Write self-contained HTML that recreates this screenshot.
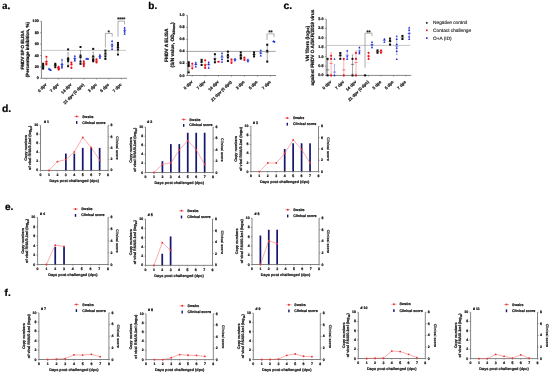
<!DOCTYPE html>
<html><head><meta charset="utf-8"><style>
html,body{margin:0;padding:0;background:#fff;width:550px;height:374px;overflow:hidden}
svg{display:block;font-family:"Liberation Sans", sans-serif}
text{stroke-width:0.22;text-rendering:geometricPrecision}
</style></head><body>
<svg width="550" height="374" viewBox="0 0 550 374">
<defs><filter id="bl" x="0" y="0" width="550" height="374" filterUnits="userSpaceOnUse"><feGaussianBlur stdDeviation="0.3"/></filter></defs>
<rect width="550" height="374" fill="#fff"/>
<g filter="url(#bl)">
<text x="2" y="9.3" font-size="11" font-weight="bold" fill="#000" stroke="#000" font-family='"Liberation Serif", serif'>a.</text>
<text x="148.3" y="9.4" font-size="10" font-weight="bold" fill="#000" stroke="#000">b.</text>
<text x="283.4" y="9.4" font-size="10.4" font-weight="bold" fill="#000" stroke="#000">c.</text>
<text x="2" y="111.6" font-size="10.4" font-weight="bold" fill="#000" stroke="#000">d.</text>
<text x="5" y="209.6" font-size="10" font-weight="bold" fill="#000" stroke="#000">e.</text>
<text x="4.6" y="295.5" font-size="10" font-weight="bold" fill="#000" stroke="#000">f.</text>
<line x1="41.45" y1="21.4" x2="41.45" y2="78.3" stroke="#505050" stroke-width="0.7"/>
<line x1="41.45" y1="78.3" x2="127" y2="78.3" stroke="#505050" stroke-width="0.7"/>
<line x1="40.05" y1="78.3" x2="41.45" y2="78.3" stroke="#505050" stroke-width="0.5"/>
<text x="38.75" y="78.3" font-size="3.7" font-weight="bold" text-anchor="end" fill="#111" stroke="#111" dominant-baseline="central">0</text>
<line x1="40.05" y1="66.92" x2="41.45" y2="66.92" stroke="#505050" stroke-width="0.5"/>
<text x="38.75" y="66.92" font-size="3.7" font-weight="bold" text-anchor="end" fill="#111" stroke="#111" dominant-baseline="central">20</text>
<line x1="40.05" y1="55.54" x2="41.45" y2="55.54" stroke="#505050" stroke-width="0.5"/>
<text x="38.75" y="55.54" font-size="3.7" font-weight="bold" text-anchor="end" fill="#111" stroke="#111" dominant-baseline="central">40</text>
<line x1="40.05" y1="44.16" x2="41.45" y2="44.16" stroke="#505050" stroke-width="0.5"/>
<text x="38.75" y="44.16" font-size="3.7" font-weight="bold" text-anchor="end" fill="#111" stroke="#111" dominant-baseline="central">60</text>
<line x1="40.05" y1="32.78" x2="41.45" y2="32.78" stroke="#505050" stroke-width="0.5"/>
<text x="38.75" y="32.78" font-size="3.7" font-weight="bold" text-anchor="end" fill="#111" stroke="#111" dominant-baseline="central">80</text>
<line x1="40.05" y1="21.4" x2="41.45" y2="21.4" stroke="#505050" stroke-width="0.5"/>
<text x="38.75" y="21.4" font-size="3.7" font-weight="bold" text-anchor="end" fill="#111" stroke="#111" dominant-baseline="central">100</text>
<line x1="46.4" y1="78.3" x2="46.4" y2="79.5" stroke="#505050" stroke-width="0.5"/>
<line x1="58.6" y1="78.3" x2="58.6" y2="79.5" stroke="#505050" stroke-width="0.5"/>
<line x1="71.4" y1="78.3" x2="71.4" y2="79.5" stroke="#505050" stroke-width="0.5"/>
<line x1="83.8" y1="78.3" x2="83.8" y2="79.5" stroke="#505050" stroke-width="0.5"/>
<line x1="96.5" y1="78.3" x2="96.5" y2="79.5" stroke="#505050" stroke-width="0.5"/>
<line x1="108.75" y1="78.3" x2="108.75" y2="79.5" stroke="#505050" stroke-width="0.5"/>
<line x1="121.3" y1="78.3" x2="121.3" y2="79.5" stroke="#505050" stroke-width="0.5"/>
<text transform="translate(45.9 83.9) rotate(-45)" font-size="4.1" font-weight="bold" text-anchor="end" fill="#222" stroke="#222" dominant-baseline="central">0 dpv</text>
<text transform="translate(58.1 83.9) rotate(-45)" font-size="4.1" font-weight="bold" text-anchor="end" fill="#222" stroke="#222" dominant-baseline="central">7 dpv</text>
<text transform="translate(70.9 83.9) rotate(-45)" font-size="4.1" font-weight="bold" text-anchor="end" fill="#222" stroke="#222" dominant-baseline="central">14 dpv</text>
<text transform="translate(83.3 83.9) rotate(-45)" font-size="4.1" font-weight="bold" text-anchor="end" fill="#222" stroke="#222" dominant-baseline="central">21 dpv (0 dpc)</text>
<text transform="translate(96 83.9) rotate(-45)" font-size="4.1" font-weight="bold" text-anchor="end" fill="#222" stroke="#222" dominant-baseline="central">3 dpc</text>
<text transform="translate(108.25 83.9) rotate(-45)" font-size="4.1" font-weight="bold" text-anchor="end" fill="#222" stroke="#222" dominant-baseline="central">5 dpc</text>
<text transform="translate(120.8 83.9) rotate(-45)" font-size="4.1" font-weight="bold" text-anchor="end" fill="#222" stroke="#222" dominant-baseline="central">7 dpc</text>
<line x1="41.45" y1="50.4" x2="126" y2="50.4" stroke="#a0a0a0" stroke-width="0.55"/>
<line x1="43.1" y1="64.15" x2="43.1" y2="68.41" stroke="#555" stroke-width="0.5"/>
<line x1="42.3" y1="64.15" x2="43.9" y2="64.15" stroke="#555" stroke-width="0.45"/>
<line x1="42.3" y1="68.41" x2="43.9" y2="68.41" stroke="#555" stroke-width="0.45"/>
<line x1="41.5" y1="66.28" x2="44.7" y2="66.28" stroke="#222" stroke-width="0.5"/>
<rect x="42.1" y="62.79" width="2" height="2" fill="#111"/>
<rect x="42.1" y="64.38" width="2" height="2" fill="#111"/>
<rect x="42.1" y="66.32" width="2" height="2" fill="#111"/>
<rect x="42.1" y="67.63" width="2" height="2" fill="#111"/>
<line x1="46.4" y1="58.1" x2="46.4" y2="65.01" stroke="#f06060" stroke-width="0.5"/>
<line x1="45.6" y1="58.1" x2="47.2" y2="58.1" stroke="#f06060" stroke-width="0.45"/>
<line x1="45.6" y1="65.01" x2="47.2" y2="65.01" stroke="#f06060" stroke-width="0.45"/>
<line x1="44.8" y1="61.56" x2="48" y2="61.56" stroke="#e8101a" stroke-width="0.5"/>
<circle cx="46.4" cy="56.68" r="1.05" fill="#e8101a"/>
<circle cx="46.4" cy="61.63" r="1.05" fill="#e8101a"/>
<circle cx="46.4" cy="63.51" r="1.05" fill="#e8101a"/>
<circle cx="46.4" cy="64.42" r="1.05" fill="#e8101a"/>
<line x1="49.8" y1="68.65" x2="49.8" y2="70.24" stroke="#6070e0" stroke-width="0.5"/>
<line x1="49" y1="68.65" x2="50.6" y2="68.65" stroke="#6070e0" stroke-width="0.45"/>
<line x1="49" y1="70.24" x2="50.6" y2="70.24" stroke="#6070e0" stroke-width="0.45"/>
<line x1="48.2" y1="69.44" x2="51.4" y2="69.44" stroke="#1d2bd0" stroke-width="0.5"/>
<polygon points="48.9,67.53 47.8,69.51 50,69.51" fill="#1d2bd0"/>
<polygon points="49.8,68.38 48.7,70.36 50.9,70.36" fill="#1d2bd0"/>
<polygon points="50.7,69.12 49.6,71.1 51.8,71.1" fill="#1d2bd0"/>
<line x1="55.3" y1="63.64" x2="55.3" y2="67.09" stroke="#555" stroke-width="0.5"/>
<line x1="54.5" y1="63.64" x2="56.1" y2="63.64" stroke="#555" stroke-width="0.45"/>
<line x1="54.5" y1="67.09" x2="56.1" y2="67.09" stroke="#555" stroke-width="0.45"/>
<line x1="53.7" y1="65.36" x2="56.9" y2="65.36" stroke="#222" stroke-width="0.5"/>
<rect x="54.3" y="62.79" width="2" height="2" fill="#111"/>
<rect x="54.3" y="64.1" width="2" height="2" fill="#111"/>
<rect x="54.3" y="66.2" width="2" height="2" fill="#111"/>
<line x1="58.6" y1="66.94" x2="58.6" y2="69.41" stroke="#f06060" stroke-width="0.5"/>
<line x1="57.8" y1="66.94" x2="59.4" y2="66.94" stroke="#f06060" stroke-width="0.45"/>
<line x1="57.8" y1="69.41" x2="59.4" y2="69.41" stroke="#f06060" stroke-width="0.45"/>
<line x1="57" y1="68.17" x2="60.2" y2="68.17" stroke="#e8101a" stroke-width="0.5"/>
<circle cx="58.6" cy="66.69" r="1.05" fill="#e8101a"/>
<circle cx="58.15" cy="67.77" r="1.05" fill="#e8101a"/>
<circle cx="59.05" cy="68.63" r="1.05" fill="#e8101a"/>
<circle cx="58.6" cy="69.59" r="1.05" fill="#e8101a"/>
<line x1="62" y1="61.29" x2="62" y2="67.54" stroke="#6070e0" stroke-width="0.5"/>
<line x1="61.2" y1="61.29" x2="62.8" y2="61.29" stroke="#6070e0" stroke-width="0.45"/>
<line x1="61.2" y1="67.54" x2="62.8" y2="67.54" stroke="#6070e0" stroke-width="0.45"/>
<line x1="60.4" y1="64.42" x2="63.6" y2="64.42" stroke="#1d2bd0" stroke-width="0.5"/>
<polygon points="62,58.48 60.9,60.46 63.1,60.46" fill="#1d2bd0"/>
<polygon points="62,62.41 60.9,64.39 63.1,64.39" fill="#1d2bd0"/>
<polygon points="62,63.83 60.9,65.81 63.1,65.81" fill="#1d2bd0"/>
<polygon points="62,65.25 60.9,67.23 63.1,67.23" fill="#1d2bd0"/>
<polygon points="62,66.62 60.9,68.6 63.1,68.6" fill="#1d2bd0"/>
<line x1="68.1" y1="52.86" x2="68.1" y2="65.09" stroke="#555" stroke-width="0.5"/>
<line x1="67.3" y1="52.86" x2="68.9" y2="52.86" stroke="#555" stroke-width="0.45"/>
<line x1="67.3" y1="65.09" x2="68.9" y2="65.09" stroke="#555" stroke-width="0.45"/>
<line x1="66.5" y1="58.98" x2="69.7" y2="58.98" stroke="#222" stroke-width="0.5"/>
<rect x="67.1" y="48.39" width="2" height="2" fill="#111"/>
<rect x="67.1" y="57.38" width="2" height="2" fill="#111"/>
<rect x="67.1" y="58.69" width="2" height="2" fill="#111"/>
<rect x="67.1" y="60.23" width="2" height="2" fill="#111"/>
<rect x="67.1" y="65.18" width="2" height="2" fill="#111"/>
<line x1="71.4" y1="62.14" x2="71.4" y2="67.64" stroke="#f06060" stroke-width="0.5"/>
<line x1="70.6" y1="62.14" x2="72.2" y2="62.14" stroke="#f06060" stroke-width="0.45"/>
<line x1="70.6" y1="67.64" x2="72.2" y2="67.64" stroke="#f06060" stroke-width="0.45"/>
<line x1="69.8" y1="64.89" x2="73" y2="64.89" stroke="#e8101a" stroke-width="0.5"/>
<circle cx="71.4" cy="62.48" r="1.05" fill="#e8101a"/>
<circle cx="71.4" cy="64.3" r="1.05" fill="#e8101a"/>
<circle cx="71.4" cy="67.89" r="1.05" fill="#e8101a"/>
<line x1="74.8" y1="56.49" x2="74.8" y2="60.57" stroke="#6070e0" stroke-width="0.5"/>
<line x1="74" y1="56.49" x2="75.6" y2="56.49" stroke="#6070e0" stroke-width="0.45"/>
<line x1="74" y1="60.57" x2="75.6" y2="60.57" stroke="#6070e0" stroke-width="0.45"/>
<line x1="73.2" y1="58.53" x2="76.4" y2="58.53" stroke="#1d2bd0" stroke-width="0.5"/>
<polygon points="74.8,54.78 73.7,56.76 75.9,56.76" fill="#1d2bd0"/>
<polygon points="74.8,57 73.7,58.98 75.9,58.98" fill="#1d2bd0"/>
<polygon points="74.8,58.42 73.7,60.4 75.9,60.4" fill="#1d2bd0"/>
<polygon points="74.8,59.5 73.7,61.48 75.9,61.48" fill="#1d2bd0"/>
<line x1="80.5" y1="50.53" x2="80.5" y2="63.58" stroke="#555" stroke-width="0.5"/>
<line x1="79.7" y1="50.53" x2="81.3" y2="50.53" stroke="#555" stroke-width="0.45"/>
<line x1="79.7" y1="63.58" x2="81.3" y2="63.58" stroke="#555" stroke-width="0.45"/>
<line x1="78.9" y1="57.05" x2="82.1" y2="57.05" stroke="#222" stroke-width="0.5"/>
<rect x="79.5" y="46" width="2" height="2" fill="#111"/>
<rect x="79.5" y="54.54" width="2" height="2" fill="#111"/>
<rect x="79.5" y="56.3" width="2" height="2" fill="#111"/>
<rect x="79.5" y="60.51" width="2" height="2" fill="#111"/>
<rect x="79.5" y="62.9" width="2" height="2" fill="#111"/>
<line x1="83.8" y1="61.61" x2="83.8" y2="65.89" stroke="#f06060" stroke-width="0.5"/>
<line x1="83" y1="61.61" x2="84.6" y2="61.61" stroke="#f06060" stroke-width="0.45"/>
<line x1="83" y1="65.89" x2="84.6" y2="65.89" stroke="#f06060" stroke-width="0.45"/>
<line x1="82.2" y1="63.75" x2="85.4" y2="63.75" stroke="#e8101a" stroke-width="0.5"/>
<circle cx="83.8" cy="61.23" r="1.05" fill="#e8101a"/>
<circle cx="83.8" cy="62.94" r="1.05" fill="#e8101a"/>
<circle cx="83.8" cy="64.64" r="1.05" fill="#e8101a"/>
<circle cx="83.8" cy="66.18" r="1.05" fill="#e8101a"/>
<line x1="87.2" y1="58.5" x2="87.2" y2="58.95" stroke="#6070e0" stroke-width="0.5"/>
<line x1="86.4" y1="58.5" x2="88" y2="58.5" stroke="#6070e0" stroke-width="0.45"/>
<line x1="86.4" y1="58.95" x2="88" y2="58.95" stroke="#6070e0" stroke-width="0.45"/>
<line x1="85.6" y1="58.73" x2="88.8" y2="58.73" stroke="#1d2bd0" stroke-width="0.5"/>
<polygon points="86.3,57.4 85.2,59.38 87.4,59.38" fill="#1d2bd0"/>
<polygon points="87.2,57.63 86.1,59.61 88.3,59.61" fill="#1d2bd0"/>
<polygon points="88.1,57.85 87,59.83 89.2,59.83" fill="#1d2bd0"/>
<line x1="93.2" y1="52.2" x2="93.2" y2="62.07" stroke="#555" stroke-width="0.5"/>
<line x1="92.4" y1="52.2" x2="94" y2="52.2" stroke="#555" stroke-width="0.45"/>
<line x1="92.4" y1="62.07" x2="94" y2="62.07" stroke="#555" stroke-width="0.45"/>
<line x1="91.6" y1="57.13" x2="94.8" y2="57.13" stroke="#222" stroke-width="0.5"/>
<rect x="92.2" y="47.88" width="2" height="2" fill="#111"/>
<rect x="92.2" y="55.39" width="2" height="2" fill="#111"/>
<rect x="92.2" y="58.18" width="2" height="2" fill="#111"/>
<rect x="92.2" y="59.09" width="2" height="2" fill="#111"/>
<rect x="92.2" y="60.12" width="2" height="2" fill="#111"/>
<line x1="96.5" y1="59.3" x2="96.5" y2="62.63" stroke="#f06060" stroke-width="0.5"/>
<line x1="95.7" y1="59.3" x2="97.3" y2="59.3" stroke="#f06060" stroke-width="0.45"/>
<line x1="95.7" y1="62.63" x2="97.3" y2="62.63" stroke="#f06060" stroke-width="0.45"/>
<line x1="94.9" y1="60.96" x2="98.1" y2="60.96" stroke="#e8101a" stroke-width="0.5"/>
<circle cx="96.5" cy="59.18" r="1.05" fill="#e8101a"/>
<circle cx="96.5" cy="61.23" r="1.05" fill="#e8101a"/>
<circle cx="96.5" cy="62.48" r="1.05" fill="#e8101a"/>
<line x1="99.9" y1="55.06" x2="99.9" y2="57.92" stroke="#6070e0" stroke-width="0.5"/>
<line x1="99.1" y1="55.06" x2="100.7" y2="55.06" stroke="#6070e0" stroke-width="0.45"/>
<line x1="99.1" y1="57.92" x2="100.7" y2="57.92" stroke="#6070e0" stroke-width="0.45"/>
<line x1="98.3" y1="56.49" x2="101.5" y2="56.49" stroke="#1d2bd0" stroke-width="0.5"/>
<polygon points="99.9,53.87 98.8,55.85 101,55.85" fill="#1d2bd0"/>
<polygon points="99.9,55.58 98.8,57.56 101,57.56" fill="#1d2bd0"/>
<polygon points="99.9,56.72 98.8,58.7 101,58.7" fill="#1d2bd0"/>
<line x1="105.4" y1="51.2" x2="105.4" y2="58.46" stroke="#555" stroke-width="0.5"/>
<line x1="104.6" y1="51.2" x2="106.2" y2="51.2" stroke="#555" stroke-width="0.45"/>
<line x1="104.6" y1="58.46" x2="106.2" y2="58.46" stroke="#555" stroke-width="0.45"/>
<line x1="103.8" y1="54.83" x2="107" y2="54.83" stroke="#222" stroke-width="0.5"/>
<rect x="104.4" y="49.59" width="2" height="2" fill="#111"/>
<rect x="104.4" y="52.38" width="2" height="2" fill="#111"/>
<rect x="104.4" y="55.39" width="2" height="2" fill="#111"/>
<rect x="104.4" y="57.95" width="2" height="2" fill="#111"/>
<line x1="112.1" y1="41.71" x2="112.1" y2="48.69" stroke="#6070e0" stroke-width="0.5"/>
<line x1="111.3" y1="41.71" x2="112.9" y2="41.71" stroke="#6070e0" stroke-width="0.45"/>
<line x1="111.3" y1="48.69" x2="112.9" y2="48.69" stroke="#6070e0" stroke-width="0.45"/>
<line x1="110.5" y1="45.2" x2="113.7" y2="45.2" stroke="#1d2bd0" stroke-width="0.5"/>
<polygon points="112.1,39.82 111,41.8 113.2,41.8" fill="#1d2bd0"/>
<polygon points="112.1,43.17 111,45.15 113.2,45.15" fill="#1d2bd0"/>
<polygon points="112.1,45.34 111,47.32 113.2,47.32" fill="#1d2bd0"/>
<polygon points="112.1,48.07 111,50.05 113.2,50.05" fill="#1d2bd0"/>
<line x1="117.95" y1="43.34" x2="117.95" y2="52.29" stroke="#555" stroke-width="0.5"/>
<line x1="117.15" y1="43.34" x2="118.75" y2="43.34" stroke="#555" stroke-width="0.45"/>
<line x1="117.15" y1="52.29" x2="118.75" y2="52.29" stroke="#555" stroke-width="0.45"/>
<line x1="116.35" y1="47.81" x2="119.55" y2="47.81" stroke="#222" stroke-width="0.5"/>
<rect x="116.95" y="41.91" width="2" height="2" fill="#111"/>
<rect x="116.95" y="44.01" width="2" height="2" fill="#111"/>
<rect x="116.95" y="46.12" width="2" height="2" fill="#111"/>
<rect x="116.95" y="48.51" width="2" height="2" fill="#111"/>
<rect x="116.95" y="53.52" width="2" height="2" fill="#111"/>
<line x1="124.65" y1="28.06" x2="124.65" y2="33.41" stroke="#6070e0" stroke-width="0.5"/>
<line x1="123.85" y1="28.06" x2="125.45" y2="28.06" stroke="#6070e0" stroke-width="0.45"/>
<line x1="123.85" y1="33.41" x2="125.45" y2="33.41" stroke="#6070e0" stroke-width="0.45"/>
<line x1="123.05" y1="30.73" x2="126.25" y2="30.73" stroke="#1d2bd0" stroke-width="0.5"/>
<polygon points="124.65,26.56 123.55,28.54 125.75,28.54" fill="#1d2bd0"/>
<polygon points="124.65,28.61 123.55,30.59 125.75,30.59" fill="#1d2bd0"/>
<polygon points="124.65,30.54 123.55,32.52 125.75,32.52" fill="#1d2bd0"/>
<polygon points="124.65,32.82 123.55,34.8 125.75,34.8" fill="#1d2bd0"/>
<text transform="translate(22.2 50) rotate(-90)" font-size="4.5" font-weight="bold" text-anchor="middle" fill="#111" stroke="#111" dominant-baseline="central">FMDV SP O ELISA</text>
<text transform="translate(27.6 49.6) rotate(-90)" font-size="4.5" font-weight="bold" text-anchor="middle" fill="#111" stroke="#111" dominant-baseline="central">(Percentage inhibition, %)</text>
<polyline points="105.4,47.5 105.4,33.4 112.2,33.4 112.2,36.6" stroke="#7a7a7a" stroke-width="0.6" fill="none"/>
<text x="108.8" y="32.6" font-size="5.2" font-weight="bold" text-anchor="middle" fill="#111" stroke="#111" dominant-baseline="central">*</text>
<polyline points="118,36.6 118,21.1 124.5,21.1 124.5,24.4" stroke="#7a7a7a" stroke-width="0.6" fill="none"/>
<text x="121.2" y="20.3" font-size="5.2" font-weight="bold" text-anchor="middle" fill="#111" stroke="#111" dominant-baseline="central">****</text>
<line x1="187.4" y1="15.3" x2="187.4" y2="75.5" stroke="#505050" stroke-width="0.7"/>
<line x1="187.4" y1="75.5" x2="276" y2="75.5" stroke="#505050" stroke-width="0.7"/>
<line x1="186" y1="75.5" x2="187.4" y2="75.5" stroke="#505050" stroke-width="0.5"/>
<text x="184.7" y="75.5" font-size="3.7" font-weight="bold" text-anchor="end" fill="#111" stroke="#111" dominant-baseline="central">0.0</text>
<line x1="186" y1="63.46" x2="187.4" y2="63.46" stroke="#505050" stroke-width="0.5"/>
<text x="184.7" y="63.46" font-size="3.7" font-weight="bold" text-anchor="end" fill="#111" stroke="#111" dominant-baseline="central">0.2</text>
<line x1="186" y1="51.42" x2="187.4" y2="51.42" stroke="#505050" stroke-width="0.5"/>
<text x="184.7" y="51.42" font-size="3.7" font-weight="bold" text-anchor="end" fill="#111" stroke="#111" dominant-baseline="central">0.4</text>
<line x1="186" y1="39.38" x2="187.4" y2="39.38" stroke="#505050" stroke-width="0.5"/>
<text x="184.7" y="39.38" font-size="3.7" font-weight="bold" text-anchor="end" fill="#111" stroke="#111" dominant-baseline="central">0.6</text>
<line x1="186" y1="27.34" x2="187.4" y2="27.34" stroke="#505050" stroke-width="0.5"/>
<text x="184.7" y="27.34" font-size="3.7" font-weight="bold" text-anchor="end" fill="#111" stroke="#111" dominant-baseline="central">0.8</text>
<line x1="186" y1="15.3" x2="187.4" y2="15.3" stroke="#505050" stroke-width="0.5"/>
<text x="184.7" y="15.3" font-size="3.7" font-weight="bold" text-anchor="end" fill="#111" stroke="#111" dominant-baseline="central">1.0</text>
<line x1="192.3" y1="75.5" x2="192.3" y2="76.7" stroke="#505050" stroke-width="0.5"/>
<line x1="205.2" y1="75.5" x2="205.2" y2="76.7" stroke="#505050" stroke-width="0.5"/>
<line x1="218.5" y1="75.5" x2="218.5" y2="76.7" stroke="#505050" stroke-width="0.5"/>
<line x1="231.5" y1="75.5" x2="231.5" y2="76.7" stroke="#505050" stroke-width="0.5"/>
<line x1="244.4" y1="75.5" x2="244.4" y2="76.7" stroke="#505050" stroke-width="0.5"/>
<line x1="257.4" y1="75.5" x2="257.4" y2="76.7" stroke="#505050" stroke-width="0.5"/>
<line x1="270.6" y1="75.5" x2="270.6" y2="76.7" stroke="#505050" stroke-width="0.5"/>
<text transform="translate(191.8 81.1) rotate(-45)" font-size="4.1" font-weight="bold" text-anchor="end" fill="#222" stroke="#222" dominant-baseline="central">0 dpv</text>
<text transform="translate(204.7 81.1) rotate(-45)" font-size="4.1" font-weight="bold" text-anchor="end" fill="#222" stroke="#222" dominant-baseline="central">7 dpv</text>
<text transform="translate(218 81.1) rotate(-45)" font-size="4.1" font-weight="bold" text-anchor="end" fill="#222" stroke="#222" dominant-baseline="central">14 dpv</text>
<text transform="translate(231 81.1) rotate(-45)" font-size="4.1" font-weight="bold" text-anchor="end" fill="#222" stroke="#222" dominant-baseline="central">21 dpv (0 dpc)</text>
<text transform="translate(243.9 81.1) rotate(-45)" font-size="4.1" font-weight="bold" text-anchor="end" fill="#222" stroke="#222" dominant-baseline="central">3 dpc</text>
<text transform="translate(256.9 81.1) rotate(-45)" font-size="4.1" font-weight="bold" text-anchor="end" fill="#222" stroke="#222" dominant-baseline="central">5 dpc</text>
<text transform="translate(270.1 81.1) rotate(-45)" font-size="4.1" font-weight="bold" text-anchor="end" fill="#222" stroke="#222" dominant-baseline="central">7 dpc</text>
<line x1="187.4" y1="51.4" x2="275.7" y2="51.4" stroke="#555" stroke-width="0.55"/>
<line x1="188.7" y1="61.74" x2="188.7" y2="70.5" stroke="#555" stroke-width="0.5"/>
<line x1="187.9" y1="61.74" x2="189.5" y2="61.74" stroke="#555" stroke-width="0.45"/>
<line x1="187.9" y1="70.5" x2="189.5" y2="70.5" stroke="#555" stroke-width="0.45"/>
<line x1="187.1" y1="66.12" x2="190.3" y2="66.12" stroke="#222" stroke-width="0.5"/>
<rect x="187.7" y="61.26" width="2" height="2" fill="#111"/>
<rect x="187.7" y="63.06" width="2" height="2" fill="#111"/>
<rect x="187.7" y="64.87" width="2" height="2" fill="#111"/>
<rect x="187.7" y="71.31" width="2" height="2" fill="#111"/>
<line x1="192.3" y1="62.9" x2="192.3" y2="69.2" stroke="#f06060" stroke-width="0.5"/>
<line x1="191.5" y1="62.9" x2="193.1" y2="62.9" stroke="#f06060" stroke-width="0.45"/>
<line x1="191.5" y1="69.2" x2="193.1" y2="69.2" stroke="#f06060" stroke-width="0.45"/>
<line x1="190.7" y1="66.05" x2="193.9" y2="66.05" stroke="#e8101a" stroke-width="0.5"/>
<circle cx="192.3" cy="63.82" r="1.05" fill="#e8101a"/>
<circle cx="192.3" cy="68.28" r="1.05" fill="#e8101a"/>
<line x1="195.8" y1="62.39" x2="195.8" y2="66.54" stroke="#6070e0" stroke-width="0.5"/>
<line x1="195" y1="62.39" x2="196.6" y2="62.39" stroke="#6070e0" stroke-width="0.45"/>
<line x1="195" y1="66.54" x2="196.6" y2="66.54" stroke="#6070e0" stroke-width="0.45"/>
<line x1="194.2" y1="64.46" x2="197.4" y2="64.46" stroke="#1d2bd0" stroke-width="0.5"/>
<polygon points="195.8,61.52 194.7,63.5 196.9,63.5" fill="#1d2bd0"/>
<polygon points="195.8,62.96 194.7,64.94 196.9,64.94" fill="#1d2bd0"/>
<polygon points="195.8,65.61 194.7,67.59 196.9,67.59" fill="#1d2bd0"/>
<line x1="201.6" y1="59.6" x2="201.6" y2="64.83" stroke="#555" stroke-width="0.5"/>
<line x1="200.8" y1="59.6" x2="202.4" y2="59.6" stroke="#555" stroke-width="0.45"/>
<line x1="200.8" y1="64.83" x2="202.4" y2="64.83" stroke="#555" stroke-width="0.45"/>
<line x1="200" y1="62.22" x2="203.2" y2="62.22" stroke="#222" stroke-width="0.5"/>
<rect x="200.6" y="58.85" width="2" height="2" fill="#111"/>
<rect x="200.6" y="60.77" width="2" height="2" fill="#111"/>
<rect x="200.6" y="64.03" width="2" height="2" fill="#111"/>
<line x1="205.2" y1="60.58" x2="205.2" y2="68.43" stroke="#f06060" stroke-width="0.5"/>
<line x1="204.4" y1="60.58" x2="206" y2="60.58" stroke="#f06060" stroke-width="0.45"/>
<line x1="204.4" y1="68.43" x2="206" y2="68.43" stroke="#f06060" stroke-width="0.45"/>
<line x1="203.6" y1="64.5" x2="206.8" y2="64.5" stroke="#e8101a" stroke-width="0.5"/>
<circle cx="205.2" cy="60.21" r="1.05" fill="#e8101a"/>
<circle cx="205.2" cy="65.39" r="1.05" fill="#e8101a"/>
<circle cx="205.2" cy="67.91" r="1.05" fill="#e8101a"/>
<line x1="208.7" y1="61.85" x2="208.7" y2="67.63" stroke="#6070e0" stroke-width="0.5"/>
<line x1="207.9" y1="61.85" x2="209.5" y2="61.85" stroke="#6070e0" stroke-width="0.45"/>
<line x1="207.9" y1="67.63" x2="209.5" y2="67.63" stroke="#6070e0" stroke-width="0.45"/>
<line x1="207.1" y1="64.74" x2="210.3" y2="64.74" stroke="#1d2bd0" stroke-width="0.5"/>
<polygon points="208.7,61.16 207.6,63.14 209.8,63.14" fill="#1d2bd0"/>
<polygon points="208.7,62.96 207.6,64.94 209.8,64.94" fill="#1d2bd0"/>
<polygon points="208.7,66.81 207.6,68.79 209.8,68.79" fill="#1d2bd0"/>
<line x1="214.9" y1="54.53" x2="214.9" y2="62.72" stroke="#555" stroke-width="0.5"/>
<line x1="214.1" y1="54.53" x2="215.7" y2="54.53" stroke="#555" stroke-width="0.45"/>
<line x1="214.1" y1="62.72" x2="215.7" y2="62.72" stroke="#555" stroke-width="0.45"/>
<line x1="213.3" y1="58.62" x2="216.5" y2="58.62" stroke="#222" stroke-width="0.5"/>
<rect x="213.9" y="53.19" width="2" height="2" fill="#111"/>
<rect x="213.9" y="58.43" width="2" height="2" fill="#111"/>
<rect x="213.9" y="61.26" width="2" height="2" fill="#111"/>
<line x1="218.5" y1="61.77" x2="218.5" y2="61.77" stroke="#f06060" stroke-width="0.5"/>
<line x1="217.7" y1="61.77" x2="219.3" y2="61.77" stroke="#f06060" stroke-width="0.45"/>
<line x1="217.7" y1="61.77" x2="219.3" y2="61.77" stroke="#f06060" stroke-width="0.45"/>
<line x1="216.9" y1="61.77" x2="220.1" y2="61.77" stroke="#e8101a" stroke-width="0.5"/>
<circle cx="218.5" cy="61.77" r="1.05" fill="#e8101a"/>
<line x1="222" y1="53.58" x2="222" y2="61.21" stroke="#6070e0" stroke-width="0.5"/>
<line x1="221.2" y1="53.58" x2="222.8" y2="53.58" stroke="#6070e0" stroke-width="0.45"/>
<line x1="221.2" y1="61.21" x2="222.8" y2="61.21" stroke="#6070e0" stroke-width="0.45"/>
<line x1="220.4" y1="57.39" x2="223.6" y2="57.39" stroke="#1d2bd0" stroke-width="0.5"/>
<polygon points="222,51.89 220.9,53.87 223.1,53.87" fill="#1d2bd0"/>
<polygon points="222,54.71 220.9,56.69 223.1,56.69" fill="#1d2bd0"/>
<polygon points="222,57.91 220.9,59.89 223.1,59.89" fill="#1d2bd0"/>
<polygon points="222,60.67 220.9,62.65 223.1,62.65" fill="#1d2bd0"/>
<line x1="227.9" y1="52.3" x2="227.9" y2="60.26" stroke="#555" stroke-width="0.5"/>
<line x1="227.1" y1="52.3" x2="228.7" y2="52.3" stroke="#555" stroke-width="0.45"/>
<line x1="227.1" y1="60.26" x2="228.7" y2="60.26" stroke="#555" stroke-width="0.45"/>
<line x1="226.3" y1="56.28" x2="229.5" y2="56.28" stroke="#222" stroke-width="0.5"/>
<rect x="226.9" y="50.6" width="2" height="2" fill="#111"/>
<rect x="226.9" y="54.03" width="2" height="2" fill="#111"/>
<rect x="226.9" y="56.44" width="2" height="2" fill="#111"/>
<rect x="226.9" y="60.05" width="2" height="2" fill="#111"/>
<line x1="231.5" y1="58.93" x2="231.5" y2="63.53" stroke="#f06060" stroke-width="0.5"/>
<line x1="230.7" y1="58.93" x2="232.3" y2="58.93" stroke="#f06060" stroke-width="0.45"/>
<line x1="230.7" y1="63.53" x2="232.3" y2="63.53" stroke="#f06060" stroke-width="0.45"/>
<line x1="229.9" y1="61.23" x2="233.1" y2="61.23" stroke="#e8101a" stroke-width="0.5"/>
<circle cx="231.5" cy="59.61" r="1.05" fill="#e8101a"/>
<circle cx="231.5" cy="62.86" r="1.05" fill="#e8101a"/>
<line x1="235" y1="58.49" x2="235" y2="60.79" stroke="#6070e0" stroke-width="0.5"/>
<line x1="234.2" y1="58.49" x2="235.8" y2="58.49" stroke="#6070e0" stroke-width="0.45"/>
<line x1="234.2" y1="60.79" x2="235.8" y2="60.79" stroke="#6070e0" stroke-width="0.45"/>
<line x1="233.4" y1="59.64" x2="236.6" y2="59.64" stroke="#1d2bd0" stroke-width="0.5"/>
<polygon points="235,57.72 233.9,59.7 236.1,59.7" fill="#1d2bd0"/>
<polygon points="235,59.35 233.9,61.33 236.1,61.33" fill="#1d2bd0"/>
<line x1="240.8" y1="53.1" x2="240.8" y2="58.64" stroke="#555" stroke-width="0.5"/>
<line x1="240" y1="53.1" x2="241.6" y2="53.1" stroke="#555" stroke-width="0.45"/>
<line x1="240" y1="58.64" x2="241.6" y2="58.64" stroke="#555" stroke-width="0.45"/>
<line x1="239.2" y1="55.87" x2="242.4" y2="55.87" stroke="#222" stroke-width="0.5"/>
<rect x="239.8" y="51.38" width="2" height="2" fill="#111"/>
<rect x="239.8" y="54.03" width="2" height="2" fill="#111"/>
<rect x="239.8" y="56.44" width="2" height="2" fill="#111"/>
<rect x="239.8" y="57.64" width="2" height="2" fill="#111"/>
<line x1="244.4" y1="57.12" x2="244.4" y2="60.53" stroke="#f06060" stroke-width="0.5"/>
<line x1="243.6" y1="57.12" x2="245.2" y2="57.12" stroke="#f06060" stroke-width="0.45"/>
<line x1="243.6" y1="60.53" x2="245.2" y2="60.53" stroke="#f06060" stroke-width="0.45"/>
<line x1="242.8" y1="58.82" x2="246" y2="58.82" stroke="#e8101a" stroke-width="0.5"/>
<circle cx="244.4" cy="57.62" r="1.05" fill="#e8101a"/>
<circle cx="244.4" cy="60.03" r="1.05" fill="#e8101a"/>
<line x1="247.9" y1="59.26" x2="247.9" y2="61.64" stroke="#6070e0" stroke-width="0.5"/>
<line x1="247.1" y1="59.26" x2="248.7" y2="59.26" stroke="#6070e0" stroke-width="0.45"/>
<line x1="247.1" y1="61.64" x2="248.7" y2="61.64" stroke="#6070e0" stroke-width="0.45"/>
<line x1="246.3" y1="60.45" x2="249.5" y2="60.45" stroke="#1d2bd0" stroke-width="0.5"/>
<polygon points="247.9,58.51 246.8,60.49 249,60.49" fill="#1d2bd0"/>
<polygon points="247.9,60.19 246.8,62.17 249,62.17" fill="#1d2bd0"/>
<line x1="254.05" y1="52.39" x2="254.05" y2="56.43" stroke="#555" stroke-width="0.5"/>
<line x1="253.25" y1="52.39" x2="254.85" y2="52.39" stroke="#555" stroke-width="0.45"/>
<line x1="253.25" y1="56.43" x2="254.85" y2="56.43" stroke="#555" stroke-width="0.45"/>
<line x1="252.45" y1="54.41" x2="255.65" y2="54.41" stroke="#222" stroke-width="0.5"/>
<rect x="253.05" y="51.38" width="2" height="2" fill="#111"/>
<rect x="253.05" y="53.43" width="2" height="2" fill="#111"/>
<rect x="253.05" y="55.42" width="2" height="2" fill="#111"/>
<line x1="260.75" y1="50.32" x2="260.75" y2="55.57" stroke="#6070e0" stroke-width="0.5"/>
<line x1="259.95" y1="50.32" x2="261.55" y2="50.32" stroke="#6070e0" stroke-width="0.45"/>
<line x1="259.95" y1="55.57" x2="261.55" y2="55.57" stroke="#6070e0" stroke-width="0.45"/>
<line x1="259.15" y1="52.95" x2="262.35" y2="52.95" stroke="#1d2bd0" stroke-width="0.5"/>
<polygon points="260.75,49.3 259.65,51.28 261.85,51.28" fill="#1d2bd0"/>
<polygon points="260.75,51.7 259.65,53.68 261.85,53.68" fill="#1d2bd0"/>
<polygon points="260.75,54.53 259.65,56.51 261.85,56.51" fill="#1d2bd0"/>
<line x1="267.25" y1="43.88" x2="267.25" y2="60.97" stroke="#555" stroke-width="0.5"/>
<line x1="266.45" y1="43.88" x2="268.05" y2="43.88" stroke="#555" stroke-width="0.45"/>
<line x1="266.45" y1="60.97" x2="268.05" y2="60.97" stroke="#555" stroke-width="0.45"/>
<line x1="265.65" y1="52.42" x2="268.85" y2="52.42" stroke="#222" stroke-width="0.5"/>
<rect x="266.25" y="43.8" width="2" height="2" fill="#111"/>
<rect x="266.25" y="49.82" width="2" height="2" fill="#111"/>
<rect x="266.25" y="60.65" width="2" height="2" fill="#111"/>
<line x1="273.95" y1="41.06" x2="273.95" y2="41.91" stroke="#6070e0" stroke-width="0.5"/>
<line x1="273.15" y1="41.06" x2="274.75" y2="41.06" stroke="#6070e0" stroke-width="0.45"/>
<line x1="273.15" y1="41.91" x2="274.75" y2="41.91" stroke="#6070e0" stroke-width="0.45"/>
<line x1="272.35" y1="41.49" x2="275.55" y2="41.49" stroke="#1d2bd0" stroke-width="0.5"/>
<polygon points="273.5,40.09 272.4,42.07 274.6,42.07" fill="#1d2bd0"/>
<polygon points="274.4,40.69 273.3,42.67 275.5,42.67" fill="#1d2bd0"/>
<text transform="translate(167.2 45.3) rotate(-90)" font-size="4.8" font-weight="bold" text-anchor="middle" fill="#111" stroke="#111" dominant-baseline="central">FMDV A ELISA</text>
<text transform="translate(173.3 44.9) rotate(-90)" font-size="4.8" font-weight="bold" text-anchor="middle" fill="#111" stroke="#111" dominant-baseline="central">(S/N value, OD<tspan font-size="3.3" dy="0.9">450nm</tspan><tspan dy="-0.9">)</tspan></text>
<polyline points="267,40 267,33.9 274.1,33.9 274.1,37.1" stroke="#7a7a7a" stroke-width="0.6" fill="none"/>
<text x="270.4" y="32.8" font-size="5.2" font-weight="bold" text-anchor="middle" fill="#111" stroke="#111" dominant-baseline="central">**</text>
<line x1="326.2" y1="19.09" x2="326.2" y2="75.4" stroke="#505050" stroke-width="0.7"/>
<line x1="326.2" y1="75.4" x2="411.2" y2="75.4" stroke="#505050" stroke-width="0.7"/>
<line x1="324.8" y1="75.4" x2="326.2" y2="75.4" stroke="#505050" stroke-width="0.5"/>
<text x="323.5" y="75.4" font-size="3.7" font-weight="bold" text-anchor="end" fill="#111" stroke="#111" dominant-baseline="central">0.0</text>
<line x1="324.8" y1="66.02" x2="326.2" y2="66.02" stroke="#505050" stroke-width="0.5"/>
<text x="323.5" y="66.02" font-size="3.7" font-weight="bold" text-anchor="end" fill="#111" stroke="#111" dominant-baseline="central">0.5</text>
<line x1="324.8" y1="56.63" x2="326.2" y2="56.63" stroke="#505050" stroke-width="0.5"/>
<text x="323.5" y="56.63" font-size="3.7" font-weight="bold" text-anchor="end" fill="#111" stroke="#111" dominant-baseline="central">1.0</text>
<line x1="324.8" y1="47.25" x2="326.2" y2="47.25" stroke="#505050" stroke-width="0.5"/>
<text x="323.5" y="47.25" font-size="3.7" font-weight="bold" text-anchor="end" fill="#111" stroke="#111" dominant-baseline="central">1.5</text>
<line x1="324.8" y1="37.86" x2="326.2" y2="37.86" stroke="#505050" stroke-width="0.5"/>
<text x="323.5" y="37.86" font-size="3.7" font-weight="bold" text-anchor="end" fill="#111" stroke="#111" dominant-baseline="central">2.0</text>
<line x1="324.8" y1="28.48" x2="326.2" y2="28.48" stroke="#505050" stroke-width="0.5"/>
<text x="323.5" y="28.48" font-size="3.7" font-weight="bold" text-anchor="end" fill="#111" stroke="#111" dominant-baseline="central">2.5</text>
<line x1="324.8" y1="19.09" x2="326.2" y2="19.09" stroke="#505050" stroke-width="0.5"/>
<text x="323.5" y="19.09" font-size="3.7" font-weight="bold" text-anchor="end" fill="#111" stroke="#111" dominant-baseline="central">3.0</text>
<line x1="331.1" y1="75.4" x2="331.1" y2="76.6" stroke="#505050" stroke-width="0.5"/>
<line x1="343.8" y1="75.4" x2="343.8" y2="76.6" stroke="#505050" stroke-width="0.5"/>
<line x1="356" y1="75.4" x2="356" y2="76.6" stroke="#505050" stroke-width="0.5"/>
<line x1="368.6" y1="75.4" x2="368.6" y2="76.6" stroke="#505050" stroke-width="0.5"/>
<line x1="381" y1="75.4" x2="381" y2="76.6" stroke="#505050" stroke-width="0.5"/>
<line x1="393.4" y1="75.4" x2="393.4" y2="76.6" stroke="#505050" stroke-width="0.5"/>
<line x1="405.8" y1="75.4" x2="405.8" y2="76.6" stroke="#505050" stroke-width="0.5"/>
<text transform="translate(330.6 81) rotate(-45)" font-size="4.1" font-weight="bold" text-anchor="end" fill="#222" stroke="#222" dominant-baseline="central">0 dpv</text>
<text transform="translate(343.3 81) rotate(-45)" font-size="4.1" font-weight="bold" text-anchor="end" fill="#222" stroke="#222" dominant-baseline="central">7 dpv</text>
<text transform="translate(355.5 81) rotate(-45)" font-size="4.1" font-weight="bold" text-anchor="end" fill="#222" stroke="#222" dominant-baseline="central">14 dpv</text>
<text transform="translate(368.1 81) rotate(-45)" font-size="4.1" font-weight="bold" text-anchor="end" fill="#222" stroke="#222" dominant-baseline="central">21 dpv (0 dpc)</text>
<text transform="translate(380.5 81) rotate(-45)" font-size="4.1" font-weight="bold" text-anchor="end" fill="#222" stroke="#222" dominant-baseline="central">3 dpc</text>
<text transform="translate(392.9 81) rotate(-45)" font-size="4.1" font-weight="bold" text-anchor="end" fill="#222" stroke="#222" dominant-baseline="central">5 dpc</text>
<text transform="translate(405.3 81) rotate(-45)" font-size="4.1" font-weight="bold" text-anchor="end" fill="#222" stroke="#222" dominant-baseline="central">7 dpc</text>
<line x1="326.2" y1="45.4" x2="410.2" y2="45.4" stroke="#999" stroke-width="0.55"/>
<line x1="327.6" y1="60.36" x2="327.6" y2="75.4" stroke="#555" stroke-width="0.5"/>
<line x1="326.8" y1="60.36" x2="328.4" y2="60.36" stroke="#555" stroke-width="0.45"/>
<line x1="326.8" y1="75.4" x2="328.4" y2="75.4" stroke="#555" stroke-width="0.45"/>
<line x1="326" y1="69.89" x2="329.2" y2="69.89" stroke="#222" stroke-width="0.5"/>
<rect x="326.6" y="57.88" width="2" height="2" fill="#111"/>
<rect x="326.6" y="74.4" width="2" height="2" fill="#111"/>
<line x1="331.1" y1="52.75" x2="331.1" y2="73.9" stroke="#f06060" stroke-width="0.5"/>
<line x1="330.3" y1="52.75" x2="331.9" y2="52.75" stroke="#f06060" stroke-width="0.45"/>
<line x1="330.3" y1="73.9" x2="331.9" y2="73.9" stroke="#f06060" stroke-width="0.45"/>
<line x1="329.5" y1="63.32" x2="332.7" y2="63.32" stroke="#e8101a" stroke-width="0.5"/>
<circle cx="331.1" cy="55.69" r="1.05" fill="#e8101a"/>
<circle cx="331.1" cy="58.88" r="1.05" fill="#e8101a"/>
<circle cx="331.1" cy="75.4" r="1.05" fill="#e8101a"/>
<line x1="334.5" y1="64.71" x2="334.5" y2="75.4" stroke="#6070e0" stroke-width="0.5"/>
<line x1="333.7" y1="64.71" x2="335.3" y2="64.71" stroke="#6070e0" stroke-width="0.45"/>
<line x1="333.7" y1="75.4" x2="335.3" y2="75.4" stroke="#6070e0" stroke-width="0.45"/>
<line x1="332.9" y1="72.1" x2="336.1" y2="72.1" stroke="#1d2bd0" stroke-width="0.5"/>
<polygon points="334.5,57.78 333.4,59.76 335.6,59.76" fill="#1d2bd0"/>
<polygon points="334.5,74.3 333.4,76.28 335.6,76.28" fill="#1d2bd0"/>
<line x1="340.3" y1="52.82" x2="340.3" y2="58.69" stroke="#555" stroke-width="0.5"/>
<line x1="339.5" y1="52.82" x2="341.1" y2="52.82" stroke="#555" stroke-width="0.45"/>
<line x1="339.5" y1="58.69" x2="341.1" y2="58.69" stroke="#555" stroke-width="0.45"/>
<line x1="338.7" y1="55.75" x2="341.9" y2="55.75" stroke="#222" stroke-width="0.5"/>
<rect x="339.3" y="52.06" width="2" height="2" fill="#111"/>
<rect x="339.3" y="54.32" width="2" height="2" fill="#111"/>
<rect x="339.3" y="57.88" width="2" height="2" fill="#111"/>
<line x1="343.8" y1="60.36" x2="343.8" y2="75.4" stroke="#f06060" stroke-width="0.5"/>
<line x1="343" y1="60.36" x2="344.6" y2="60.36" stroke="#f06060" stroke-width="0.45"/>
<line x1="343" y1="75.4" x2="344.6" y2="75.4" stroke="#f06060" stroke-width="0.45"/>
<line x1="342.2" y1="69.89" x2="345.4" y2="69.89" stroke="#e8101a" stroke-width="0.5"/>
<circle cx="343.8" cy="58.88" r="1.05" fill="#e8101a"/>
<circle cx="343.8" cy="75.4" r="1.05" fill="#e8101a"/>
<line x1="347.2" y1="51.03" x2="347.2" y2="59.47" stroke="#6070e0" stroke-width="0.5"/>
<line x1="346.4" y1="51.03" x2="348" y2="51.03" stroke="#6070e0" stroke-width="0.45"/>
<line x1="346.4" y1="59.47" x2="348" y2="59.47" stroke="#6070e0" stroke-width="0.45"/>
<line x1="345.6" y1="55.25" x2="348.8" y2="55.25" stroke="#1d2bd0" stroke-width="0.5"/>
<polygon points="347.2,49.52 346.1,51.5 348.3,51.5" fill="#1d2bd0"/>
<polygon points="347.2,55.15 346.1,57.13 348.3,57.13" fill="#1d2bd0"/>
<polygon points="347.2,57.78 346.1,59.76 348.3,59.76" fill="#1d2bd0"/>
<line x1="352.5" y1="54.85" x2="352.5" y2="73.92" stroke="#555" stroke-width="0.5"/>
<line x1="351.7" y1="54.85" x2="353.3" y2="54.85" stroke="#555" stroke-width="0.45"/>
<line x1="351.7" y1="73.92" x2="353.3" y2="73.92" stroke="#555" stroke-width="0.45"/>
<line x1="350.9" y1="64.39" x2="354.1" y2="64.39" stroke="#222" stroke-width="0.5"/>
<rect x="351.5" y="57.88" width="2" height="2" fill="#111"/>
<rect x="351.5" y="74.4" width="2" height="2" fill="#111"/>
<line x1="356" y1="50.86" x2="356" y2="74.04" stroke="#f06060" stroke-width="0.5"/>
<line x1="355.2" y1="50.86" x2="356.8" y2="50.86" stroke="#f06060" stroke-width="0.45"/>
<line x1="355.2" y1="74.04" x2="356.8" y2="74.04" stroke="#f06060" stroke-width="0.45"/>
<line x1="354.4" y1="62.45" x2="357.6" y2="62.45" stroke="#e8101a" stroke-width="0.5"/>
<circle cx="356" cy="53.06" r="1.05" fill="#e8101a"/>
<circle cx="356" cy="58.88" r="1.05" fill="#e8101a"/>
<circle cx="356" cy="75.4" r="1.05" fill="#e8101a"/>
<line x1="359.4" y1="47.62" x2="359.4" y2="53.87" stroke="#6070e0" stroke-width="0.5"/>
<line x1="358.6" y1="47.62" x2="360.2" y2="47.62" stroke="#6070e0" stroke-width="0.45"/>
<line x1="358.6" y1="53.87" x2="360.2" y2="53.87" stroke="#6070e0" stroke-width="0.45"/>
<line x1="357.8" y1="50.75" x2="361" y2="50.75" stroke="#1d2bd0" stroke-width="0.5"/>
<polygon points="359.4,46.15 358.3,48.13 360.5,48.13" fill="#1d2bd0"/>
<polygon points="359.4,50.65 358.3,52.63 360.5,52.63" fill="#1d2bd0"/>
<polygon points="359.4,52.15 358.3,54.13 360.5,54.13" fill="#1d2bd0"/>
<line x1="365.1" y1="75.4" x2="365.1" y2="75.4" stroke="#555" stroke-width="0.5"/>
<line x1="364.3" y1="75.4" x2="365.9" y2="75.4" stroke="#555" stroke-width="0.45"/>
<line x1="364.3" y1="75.4" x2="365.9" y2="75.4" stroke="#555" stroke-width="0.45"/>
<line x1="363.5" y1="75.4" x2="366.7" y2="75.4" stroke="#222" stroke-width="0.5"/>
<rect x="364.1" y="74.4" width="2" height="2" fill="#111"/>
<line x1="368.6" y1="52.81" x2="368.6" y2="59.2" stroke="#f06060" stroke-width="0.5"/>
<line x1="367.8" y1="52.81" x2="369.4" y2="52.81" stroke="#f06060" stroke-width="0.45"/>
<line x1="367.8" y1="59.2" x2="369.4" y2="59.2" stroke="#f06060" stroke-width="0.45"/>
<line x1="367" y1="56" x2="370.2" y2="56" stroke="#e8101a" stroke-width="0.5"/>
<circle cx="368.6" cy="52.69" r="1.05" fill="#e8101a"/>
<circle cx="368.6" cy="56.25" r="1.05" fill="#e8101a"/>
<circle cx="368.6" cy="59.07" r="1.05" fill="#e8101a"/>
<line x1="372" y1="41.99" x2="372" y2="47.25" stroke="#6070e0" stroke-width="0.5"/>
<line x1="371.2" y1="41.99" x2="372.8" y2="41.99" stroke="#6070e0" stroke-width="0.45"/>
<line x1="371.2" y1="47.25" x2="372.8" y2="47.25" stroke="#6070e0" stroke-width="0.45"/>
<line x1="370.4" y1="44.62" x2="373.6" y2="44.62" stroke="#1d2bd0" stroke-width="0.5"/>
<polygon points="372,40.89 370.9,42.87 373.1,42.87" fill="#1d2bd0"/>
<polygon points="372,43.52 370.9,45.5 373.1,45.5" fill="#1d2bd0"/>
<polygon points="372,46.15 370.9,48.13 373.1,48.13" fill="#1d2bd0"/>
<line x1="377.5" y1="49.97" x2="377.5" y2="53.15" stroke="#555" stroke-width="0.5"/>
<line x1="376.7" y1="49.97" x2="378.3" y2="49.97" stroke="#555" stroke-width="0.45"/>
<line x1="376.7" y1="53.15" x2="378.3" y2="53.15" stroke="#555" stroke-width="0.45"/>
<line x1="375.9" y1="51.56" x2="379.1" y2="51.56" stroke="#222" stroke-width="0.5"/>
<rect x="376.5" y="49.44" width="2" height="2" fill="#111"/>
<rect x="376.5" y="51.69" width="2" height="2" fill="#111"/>
<line x1="381" y1="49.97" x2="381" y2="53.15" stroke="#f06060" stroke-width="0.5"/>
<line x1="380.2" y1="49.97" x2="381.8" y2="49.97" stroke="#f06060" stroke-width="0.45"/>
<line x1="380.2" y1="53.15" x2="381.8" y2="53.15" stroke="#f06060" stroke-width="0.45"/>
<line x1="379.4" y1="51.56" x2="382.6" y2="51.56" stroke="#e8101a" stroke-width="0.5"/>
<circle cx="381" cy="50.44" r="1.05" fill="#e8101a"/>
<circle cx="381" cy="52.69" r="1.05" fill="#e8101a"/>
<line x1="384.4" y1="38.59" x2="384.4" y2="42.57" stroke="#6070e0" stroke-width="0.5"/>
<line x1="383.6" y1="38.59" x2="385.2" y2="38.59" stroke="#6070e0" stroke-width="0.45"/>
<line x1="383.6" y1="42.57" x2="385.2" y2="42.57" stroke="#6070e0" stroke-width="0.45"/>
<line x1="382.8" y1="40.58" x2="386" y2="40.58" stroke="#1d2bd0" stroke-width="0.5"/>
<polygon points="384.4,38.07 383.3,40.05 385.5,40.05" fill="#1d2bd0"/>
<polygon points="384.4,40.89 383.3,42.87 385.5,42.87" fill="#1d2bd0"/>
<line x1="390.05" y1="38.33" x2="390.05" y2="44.4" stroke="#555" stroke-width="0.5"/>
<line x1="389.25" y1="38.33" x2="390.85" y2="38.33" stroke="#555" stroke-width="0.45"/>
<line x1="389.25" y1="44.4" x2="390.85" y2="44.4" stroke="#555" stroke-width="0.45"/>
<line x1="388.45" y1="41.36" x2="391.65" y2="41.36" stroke="#222" stroke-width="0.5"/>
<rect x="389.05" y="37.61" width="2" height="2" fill="#111"/>
<rect x="389.05" y="39.86" width="2" height="2" fill="#111"/>
<rect x="389.05" y="43.62" width="2" height="2" fill="#111"/>
<line x1="396.75" y1="37.82" x2="396.75" y2="54.54" stroke="#6070e0" stroke-width="0.5"/>
<line x1="395.95" y1="37.82" x2="397.55" y2="37.82" stroke="#6070e0" stroke-width="0.45"/>
<line x1="395.95" y1="54.54" x2="397.55" y2="54.54" stroke="#6070e0" stroke-width="0.45"/>
<line x1="395.15" y1="46.18" x2="398.35" y2="46.18" stroke="#1d2bd0" stroke-width="0.5"/>
<polygon points="396.75,34.88 395.65,36.86 397.85,36.86" fill="#1d2bd0"/>
<polygon points="396.75,38.07 395.65,40.05 397.85,40.05" fill="#1d2bd0"/>
<polygon points="396.75,42.95 395.65,44.93 397.85,44.93" fill="#1d2bd0"/>
<polygon points="396.75,46.71 395.65,48.69 397.85,48.69" fill="#1d2bd0"/>
<polygon points="396.75,49.9 395.65,51.88 397.85,51.88" fill="#1d2bd0"/>
<polygon points="396.75,57.97 395.65,59.95 397.85,59.95" fill="#1d2bd0"/>
<line x1="402.45" y1="35.36" x2="402.45" y2="39.61" stroke="#555" stroke-width="0.5"/>
<line x1="401.65" y1="35.36" x2="403.25" y2="35.36" stroke="#555" stroke-width="0.45"/>
<line x1="401.65" y1="39.61" x2="403.25" y2="39.61" stroke="#555" stroke-width="0.45"/>
<line x1="400.85" y1="37.48" x2="404.05" y2="37.48" stroke="#222" stroke-width="0.5"/>
<rect x="401.45" y="34.98" width="2" height="2" fill="#111"/>
<rect x="401.45" y="37.99" width="2" height="2" fill="#111"/>
<line x1="409.15" y1="28.66" x2="409.15" y2="38.05" stroke="#6070e0" stroke-width="0.5"/>
<line x1="408.35" y1="28.66" x2="409.95" y2="28.66" stroke="#6070e0" stroke-width="0.45"/>
<line x1="408.35" y1="38.05" x2="409.95" y2="38.05" stroke="#6070e0" stroke-width="0.45"/>
<line x1="407.55" y1="33.36" x2="410.75" y2="33.36" stroke="#1d2bd0" stroke-width="0.5"/>
<polygon points="409.15,26.44 408.05,28.42 410.25,28.42" fill="#1d2bd0"/>
<polygon points="409.15,29.06 408.05,31.04 410.25,31.04" fill="#1d2bd0"/>
<polygon points="409.15,32.26 408.05,34.24 410.25,34.24" fill="#1d2bd0"/>
<polygon points="409.15,35.45 408.05,37.43 410.25,37.43" fill="#1d2bd0"/>
<polygon points="409.15,38.07 408.05,40.05 410.25,40.05" fill="#1d2bd0"/>
<text transform="translate(307.2 43.7) rotate(-90)" font-size="4.7" font-weight="bold" text-anchor="middle" fill="#111" stroke="#111" dominant-baseline="central">VN Titers (log<tspan font-size="3" dy="0.9">10</tspan><tspan dy="-0.9">)</tspan></text>
<text transform="translate(312.6 47.6) rotate(-90)" font-size="4.7" font-weight="bold" text-anchor="middle" fill="#111" stroke="#111" dominant-baseline="central">against FMDV O A/SKR/2019 virus</text>
<polyline points="365,67.7 365,33.2 372,33.2 372,36" stroke="#7a7a7a" stroke-width="0.6" fill="none"/>
<text x="368.5" y="32.8" font-size="5.2" font-weight="bold" text-anchor="middle" fill="#111" stroke="#111" dominant-baseline="central">**</text>
<rect x="426" y="22.1" width="1.6" height="1.6" fill="#111"/>
<rect x="426" y="29.5" width="1.6" height="1.6" fill="#e8101a"/>
<rect x="426" y="37.3" width="1.6" height="1.6" fill="#1d2bd0"/>
<text x="433.1" y="23.9" font-size="4.75" fill="#222" stroke="#222" dominant-baseline="central" style="stroke-width:0.14">Negative control</text>
<text x="433.1" y="31.3" font-size="4.75" fill="#222" stroke="#222" dominant-baseline="central" style="stroke-width:0.14">Contact challenge</text>
<text x="433.1" y="39.1" font-size="4.75" fill="#222" stroke="#222" dominant-baseline="central" style="stroke-width:0.14">O+A (ID)</text>
<rect x="65" y="153.52" width="1.7" height="16.93" fill="#14146e"/>
<rect x="73.45" y="153.52" width="1.7" height="16.93" fill="#14146e"/>
<rect x="81.9" y="147.88" width="1.7" height="22.57" fill="#14146e"/>
<rect x="90.35" y="147.88" width="1.7" height="22.57" fill="#14146e"/>
<rect x="98.8" y="147.88" width="1.7" height="22.57" fill="#14146e"/>
<line x1="40.5" y1="125.3" x2="40.5" y2="170.45" stroke="#505050" stroke-width="0.7"/>
<line x1="108.1" y1="125.3" x2="108.1" y2="170.45" stroke="#505050" stroke-width="0.7"/>
<line x1="40.5" y1="170.45" x2="108.1" y2="170.45" stroke="#505050" stroke-width="0.7"/>
<line x1="39.3" y1="170.45" x2="40.5" y2="170.45" stroke="#505050" stroke-width="0.5"/>
<text x="38.1" y="170.45" font-size="3.5" font-weight="bold" text-anchor="end" fill="#111" stroke="#111" dominant-baseline="central">0</text>
<line x1="39.3" y1="161.42" x2="40.5" y2="161.42" stroke="#505050" stroke-width="0.5"/>
<text x="38.1" y="161.42" font-size="3.5" font-weight="bold" text-anchor="end" fill="#111" stroke="#111" dominant-baseline="central">2</text>
<line x1="39.3" y1="152.39" x2="40.5" y2="152.39" stroke="#505050" stroke-width="0.5"/>
<text x="38.1" y="152.39" font-size="3.5" font-weight="bold" text-anchor="end" fill="#111" stroke="#111" dominant-baseline="central">4</text>
<line x1="39.3" y1="143.36" x2="40.5" y2="143.36" stroke="#505050" stroke-width="0.5"/>
<text x="38.1" y="143.36" font-size="3.5" font-weight="bold" text-anchor="end" fill="#111" stroke="#111" dominant-baseline="central">6</text>
<line x1="39.3" y1="134.33" x2="40.5" y2="134.33" stroke="#505050" stroke-width="0.5"/>
<text x="38.1" y="134.33" font-size="3.5" font-weight="bold" text-anchor="end" fill="#111" stroke="#111" dominant-baseline="central">8</text>
<line x1="39.3" y1="125.3" x2="40.5" y2="125.3" stroke="#505050" stroke-width="0.5"/>
<text x="38.1" y="125.3" font-size="3.5" font-weight="bold" text-anchor="end" fill="#111" stroke="#111" dominant-baseline="central">10</text>
<line x1="108.1" y1="170.45" x2="109.3" y2="170.45" stroke="#505050" stroke-width="0.5"/>
<text x="110.6" y="170.45" font-size="3.5" font-weight="bold" fill="#111" stroke="#111" dominant-baseline="central">0</text>
<line x1="108.1" y1="159.16" x2="109.3" y2="159.16" stroke="#505050" stroke-width="0.5"/>
<text x="110.6" y="159.16" font-size="3.5" font-weight="bold" fill="#111" stroke="#111" dominant-baseline="central">2</text>
<line x1="108.1" y1="147.88" x2="109.3" y2="147.88" stroke="#505050" stroke-width="0.5"/>
<text x="110.6" y="147.88" font-size="3.5" font-weight="bold" fill="#111" stroke="#111" dominant-baseline="central">4</text>
<line x1="108.1" y1="136.59" x2="109.3" y2="136.59" stroke="#505050" stroke-width="0.5"/>
<text x="110.6" y="136.59" font-size="3.5" font-weight="bold" fill="#111" stroke="#111" dominant-baseline="central">6</text>
<line x1="108.1" y1="125.3" x2="109.3" y2="125.3" stroke="#505050" stroke-width="0.5"/>
<text x="110.6" y="125.3" font-size="3.5" font-weight="bold" fill="#111" stroke="#111" dominant-baseline="central">8</text>
<line x1="40.5" y1="170.45" x2="40.5" y2="171.55" stroke="#505050" stroke-width="0.5"/>
<text x="40.5" y="175.05" font-size="3.5" font-weight="bold" text-anchor="middle" fill="#111" stroke="#111" dominant-baseline="central">0</text>
<line x1="48.95" y1="170.45" x2="48.95" y2="171.55" stroke="#505050" stroke-width="0.5"/>
<text x="48.95" y="175.05" font-size="3.5" font-weight="bold" text-anchor="middle" fill="#111" stroke="#111" dominant-baseline="central">1</text>
<line x1="57.4" y1="170.45" x2="57.4" y2="171.55" stroke="#505050" stroke-width="0.5"/>
<text x="57.4" y="175.05" font-size="3.5" font-weight="bold" text-anchor="middle" fill="#111" stroke="#111" dominant-baseline="central">2</text>
<line x1="65.85" y1="170.45" x2="65.85" y2="171.55" stroke="#505050" stroke-width="0.5"/>
<text x="65.85" y="175.05" font-size="3.5" font-weight="bold" text-anchor="middle" fill="#111" stroke="#111" dominant-baseline="central">3</text>
<line x1="74.3" y1="170.45" x2="74.3" y2="171.55" stroke="#505050" stroke-width="0.5"/>
<text x="74.3" y="175.05" font-size="3.5" font-weight="bold" text-anchor="middle" fill="#111" stroke="#111" dominant-baseline="central">4</text>
<line x1="82.75" y1="170.45" x2="82.75" y2="171.55" stroke="#505050" stroke-width="0.5"/>
<text x="82.75" y="175.05" font-size="3.5" font-weight="bold" text-anchor="middle" fill="#111" stroke="#111" dominant-baseline="central">5</text>
<line x1="91.2" y1="170.45" x2="91.2" y2="171.55" stroke="#505050" stroke-width="0.5"/>
<text x="91.2" y="175.05" font-size="3.5" font-weight="bold" text-anchor="middle" fill="#111" stroke="#111" dominant-baseline="central">6</text>
<line x1="99.65" y1="170.45" x2="99.65" y2="171.55" stroke="#505050" stroke-width="0.5"/>
<text x="99.65" y="175.05" font-size="3.5" font-weight="bold" text-anchor="middle" fill="#111" stroke="#111" dominant-baseline="central">7</text>
<line x1="108.1" y1="170.45" x2="108.1" y2="171.55" stroke="#505050" stroke-width="0.5"/>
<text x="108.1" y="175.05" font-size="3.5" font-weight="bold" text-anchor="middle" fill="#111" stroke="#111" dominant-baseline="central">8</text>
<polyline points="48.95,170.45 57.4,161.65 65.85,159.61 74.3,151.94 82.75,137.49 91.2,147.42 99.65,160.07" stroke="#f36a6a" stroke-width="0.55" fill="none"/>
<circle cx="48.95" cy="170.45" r="0.9" fill="#f03030"/>
<circle cx="57.4" cy="161.65" r="0.9" fill="#f03030"/>
<circle cx="65.85" cy="159.61" r="0.9" fill="#f03030"/>
<circle cx="74.3" cy="151.94" r="0.9" fill="#f03030"/>
<circle cx="82.75" cy="137.49" r="0.9" fill="#f03030"/>
<circle cx="91.2" cy="147.42" r="0.9" fill="#f03030"/>
<circle cx="99.65" cy="160.07" r="0.9" fill="#f03030"/>
<text x="74.3" y="180.75" font-size="3.8" font-weight="bold" text-anchor="middle" fill="#222" stroke="#222" dominant-baseline="central">Days post challenged (dpc)</text>
<text transform="translate(25.8 147.88) rotate(-90)" font-size="3.7" font-weight="bold" text-anchor="middle" fill="#222" stroke="#222" dominant-baseline="central">Copy numbers</text>
<text transform="translate(30.2 147.88) rotate(-90)" font-size="3.75" font-weight="bold" text-anchor="middle" fill="#222" stroke="#222" dominant-baseline="central">of viral RNA/0.1ml (log<tspan font-size="2.5" dy="0.6">10</tspan><tspan dy="-0.6">)</tspan></text>
<text transform="translate(117.3 147.88) rotate(90)" font-size="3.6" font-weight="bold" text-anchor="middle" fill="#222" stroke="#222" dominant-baseline="central">Clinical score</text>
<line x1="74.2" y1="116.5" x2="79.2" y2="116.5" stroke="#f36a6a" stroke-width="0.6"/>
<circle cx="76.7" cy="116.5" r="1" fill="#f03030"/>
<rect x="76" y="121.1" width="1.4" height="2.8" fill="#14146e"/>
<text x="82.2" y="116.5" font-size="3.6" font-weight="bold" fill="#222" stroke="#222" dominant-baseline="central">Swabs</text>
<text x="82.2" y="122.5" font-size="3.6" font-weight="bold" fill="#222" stroke="#222" dominant-baseline="central">Clinical score</text>
<text x="44" y="122.1" font-size="3.6" font-weight="bold" fill="#111" stroke="#111" dominant-baseline="central"># 1</text>
<rect x="161.55" y="161.15" width="1.7" height="11.35" fill="#14146e"/>
<rect x="170" y="144.12" width="1.7" height="28.38" fill="#14146e"/>
<rect x="178.45" y="144.12" width="1.7" height="28.38" fill="#14146e"/>
<rect x="186.9" y="132.77" width="1.7" height="39.73" fill="#14146e"/>
<rect x="195.35" y="132.77" width="1.7" height="39.73" fill="#14146e"/>
<rect x="203.8" y="132.77" width="1.7" height="39.73" fill="#14146e"/>
<line x1="145.5" y1="127.1" x2="145.5" y2="172.5" stroke="#505050" stroke-width="0.7"/>
<line x1="213.1" y1="127.1" x2="213.1" y2="172.5" stroke="#505050" stroke-width="0.7"/>
<line x1="145.5" y1="172.5" x2="213.1" y2="172.5" stroke="#505050" stroke-width="0.7"/>
<line x1="144.3" y1="172.5" x2="145.5" y2="172.5" stroke="#505050" stroke-width="0.5"/>
<text x="143.1" y="172.5" font-size="3.5" font-weight="bold" text-anchor="end" fill="#111" stroke="#111" dominant-baseline="central">0</text>
<line x1="144.3" y1="163.42" x2="145.5" y2="163.42" stroke="#505050" stroke-width="0.5"/>
<text x="143.1" y="163.42" font-size="3.5" font-weight="bold" text-anchor="end" fill="#111" stroke="#111" dominant-baseline="central">2</text>
<line x1="144.3" y1="154.34" x2="145.5" y2="154.34" stroke="#505050" stroke-width="0.5"/>
<text x="143.1" y="154.34" font-size="3.5" font-weight="bold" text-anchor="end" fill="#111" stroke="#111" dominant-baseline="central">4</text>
<line x1="144.3" y1="145.26" x2="145.5" y2="145.26" stroke="#505050" stroke-width="0.5"/>
<text x="143.1" y="145.26" font-size="3.5" font-weight="bold" text-anchor="end" fill="#111" stroke="#111" dominant-baseline="central">6</text>
<line x1="144.3" y1="136.18" x2="145.5" y2="136.18" stroke="#505050" stroke-width="0.5"/>
<text x="143.1" y="136.18" font-size="3.5" font-weight="bold" text-anchor="end" fill="#111" stroke="#111" dominant-baseline="central">8</text>
<line x1="144.3" y1="127.1" x2="145.5" y2="127.1" stroke="#505050" stroke-width="0.5"/>
<text x="143.1" y="127.1" font-size="3.5" font-weight="bold" text-anchor="end" fill="#111" stroke="#111" dominant-baseline="central">10</text>
<line x1="213.1" y1="172.5" x2="214.3" y2="172.5" stroke="#505050" stroke-width="0.5"/>
<text x="215.6" y="172.5" font-size="3.5" font-weight="bold" fill="#111" stroke="#111" dominant-baseline="central">0</text>
<line x1="213.1" y1="161.15" x2="214.3" y2="161.15" stroke="#505050" stroke-width="0.5"/>
<text x="215.6" y="161.15" font-size="3.5" font-weight="bold" fill="#111" stroke="#111" dominant-baseline="central">2</text>
<line x1="213.1" y1="149.8" x2="214.3" y2="149.8" stroke="#505050" stroke-width="0.5"/>
<text x="215.6" y="149.8" font-size="3.5" font-weight="bold" fill="#111" stroke="#111" dominant-baseline="central">4</text>
<line x1="213.1" y1="138.45" x2="214.3" y2="138.45" stroke="#505050" stroke-width="0.5"/>
<text x="215.6" y="138.45" font-size="3.5" font-weight="bold" fill="#111" stroke="#111" dominant-baseline="central">6</text>
<line x1="213.1" y1="127.1" x2="214.3" y2="127.1" stroke="#505050" stroke-width="0.5"/>
<text x="215.6" y="127.1" font-size="3.5" font-weight="bold" fill="#111" stroke="#111" dominant-baseline="central">8</text>
<line x1="145.5" y1="172.5" x2="145.5" y2="173.6" stroke="#505050" stroke-width="0.5"/>
<text x="145.5" y="177.1" font-size="3.5" font-weight="bold" text-anchor="middle" fill="#111" stroke="#111" dominant-baseline="central">0</text>
<line x1="153.95" y1="172.5" x2="153.95" y2="173.6" stroke="#505050" stroke-width="0.5"/>
<text x="153.95" y="177.1" font-size="3.5" font-weight="bold" text-anchor="middle" fill="#111" stroke="#111" dominant-baseline="central">1</text>
<line x1="162.4" y1="172.5" x2="162.4" y2="173.6" stroke="#505050" stroke-width="0.5"/>
<text x="162.4" y="177.1" font-size="3.5" font-weight="bold" text-anchor="middle" fill="#111" stroke="#111" dominant-baseline="central">2</text>
<line x1="170.85" y1="172.5" x2="170.85" y2="173.6" stroke="#505050" stroke-width="0.5"/>
<text x="170.85" y="177.1" font-size="3.5" font-weight="bold" text-anchor="middle" fill="#111" stroke="#111" dominant-baseline="central">3</text>
<line x1="179.3" y1="172.5" x2="179.3" y2="173.6" stroke="#505050" stroke-width="0.5"/>
<text x="179.3" y="177.1" font-size="3.5" font-weight="bold" text-anchor="middle" fill="#111" stroke="#111" dominant-baseline="central">4</text>
<line x1="187.75" y1="172.5" x2="187.75" y2="173.6" stroke="#505050" stroke-width="0.5"/>
<text x="187.75" y="177.1" font-size="3.5" font-weight="bold" text-anchor="middle" fill="#111" stroke="#111" dominant-baseline="central">5</text>
<line x1="196.2" y1="172.5" x2="196.2" y2="173.6" stroke="#505050" stroke-width="0.5"/>
<text x="196.2" y="177.1" font-size="3.5" font-weight="bold" text-anchor="middle" fill="#111" stroke="#111" dominant-baseline="central">6</text>
<line x1="204.65" y1="172.5" x2="204.65" y2="173.6" stroke="#505050" stroke-width="0.5"/>
<text x="204.65" y="177.1" font-size="3.5" font-weight="bold" text-anchor="middle" fill="#111" stroke="#111" dominant-baseline="central">7</text>
<line x1="213.1" y1="172.5" x2="213.1" y2="173.6" stroke="#505050" stroke-width="0.5"/>
<text x="213.1" y="177.1" font-size="3.5" font-weight="bold" text-anchor="middle" fill="#111" stroke="#111" dominant-baseline="central">8</text>
<polyline points="153.95,172.5 162.4,164.33 170.85,162.97 179.3,149.8 187.75,140.72 196.2,149.8 204.65,164.33" stroke="#f36a6a" stroke-width="0.55" fill="none"/>
<circle cx="153.95" cy="172.5" r="0.9" fill="#f03030"/>
<circle cx="162.4" cy="164.33" r="0.9" fill="#f03030"/>
<circle cx="170.85" cy="162.97" r="0.9" fill="#f03030"/>
<circle cx="179.3" cy="149.8" r="0.9" fill="#f03030"/>
<circle cx="187.75" cy="140.72" r="0.9" fill="#f03030"/>
<circle cx="196.2" cy="149.8" r="0.9" fill="#f03030"/>
<circle cx="204.65" cy="164.33" r="0.9" fill="#f03030"/>
<text x="179.3" y="182.8" font-size="3.8" font-weight="bold" text-anchor="middle" fill="#222" stroke="#222" dominant-baseline="central">Days post challenged (dpc)</text>
<text transform="translate(130.8 149.8) rotate(-90)" font-size="3.7" font-weight="bold" text-anchor="middle" fill="#222" stroke="#222" dominant-baseline="central">Copy numbers</text>
<text transform="translate(135.2 149.8) rotate(-90)" font-size="3.75" font-weight="bold" text-anchor="middle" fill="#222" stroke="#222" dominant-baseline="central">of viral RNA/0.1ml (log<tspan font-size="2.5" dy="0.6">10</tspan><tspan dy="-0.6">)</tspan></text>
<text transform="translate(222.3 149.8) rotate(90)" font-size="3.6" font-weight="bold" text-anchor="middle" fill="#222" stroke="#222" dominant-baseline="central">Clinical score</text>
<line x1="181.2" y1="119.5" x2="186.2" y2="119.5" stroke="#f36a6a" stroke-width="0.6"/>
<circle cx="183.7" cy="119.5" r="1" fill="#f03030"/>
<rect x="183" y="124" width="1.4" height="2.8" fill="#14146e"/>
<text x="189.2" y="119.5" font-size="3.6" font-weight="bold" fill="#222" stroke="#222" dominant-baseline="central">Swabs</text>
<text x="189.2" y="125.4" font-size="3.6" font-weight="bold" fill="#222" stroke="#222" dominant-baseline="central">Clinical score</text>
<text x="147.2" y="122.4" font-size="3.6" font-weight="bold" fill="#111" stroke="#111" dominant-baseline="central"># 2</text>
<rect x="283.85" y="148.95" width="1.7" height="22.65" fill="#14146e"/>
<rect x="292.3" y="143.29" width="1.7" height="28.31" fill="#14146e"/>
<rect x="300.75" y="143.29" width="1.7" height="28.31" fill="#14146e"/>
<rect x="309.2" y="143.29" width="1.7" height="28.31" fill="#14146e"/>
<line x1="250.9" y1="126.3" x2="250.9" y2="171.6" stroke="#505050" stroke-width="0.7"/>
<line x1="318.5" y1="126.3" x2="318.5" y2="171.6" stroke="#505050" stroke-width="0.7"/>
<line x1="250.9" y1="171.6" x2="318.5" y2="171.6" stroke="#505050" stroke-width="0.7"/>
<line x1="249.7" y1="171.6" x2="250.9" y2="171.6" stroke="#505050" stroke-width="0.5"/>
<text x="248.5" y="171.6" font-size="3.5" font-weight="bold" text-anchor="end" fill="#111" stroke="#111" dominant-baseline="central">0</text>
<line x1="249.7" y1="162.54" x2="250.9" y2="162.54" stroke="#505050" stroke-width="0.5"/>
<text x="248.5" y="162.54" font-size="3.5" font-weight="bold" text-anchor="end" fill="#111" stroke="#111" dominant-baseline="central">2</text>
<line x1="249.7" y1="153.48" x2="250.9" y2="153.48" stroke="#505050" stroke-width="0.5"/>
<text x="248.5" y="153.48" font-size="3.5" font-weight="bold" text-anchor="end" fill="#111" stroke="#111" dominant-baseline="central">4</text>
<line x1="249.7" y1="144.42" x2="250.9" y2="144.42" stroke="#505050" stroke-width="0.5"/>
<text x="248.5" y="144.42" font-size="3.5" font-weight="bold" text-anchor="end" fill="#111" stroke="#111" dominant-baseline="central">6</text>
<line x1="249.7" y1="135.36" x2="250.9" y2="135.36" stroke="#505050" stroke-width="0.5"/>
<text x="248.5" y="135.36" font-size="3.5" font-weight="bold" text-anchor="end" fill="#111" stroke="#111" dominant-baseline="central">8</text>
<line x1="249.7" y1="126.3" x2="250.9" y2="126.3" stroke="#505050" stroke-width="0.5"/>
<text x="248.5" y="126.3" font-size="3.5" font-weight="bold" text-anchor="end" fill="#111" stroke="#111" dominant-baseline="central">10</text>
<line x1="318.5" y1="171.6" x2="319.7" y2="171.6" stroke="#505050" stroke-width="0.5"/>
<text x="321" y="171.6" font-size="3.5" font-weight="bold" fill="#111" stroke="#111" dominant-baseline="central">0</text>
<line x1="318.5" y1="160.28" x2="319.7" y2="160.28" stroke="#505050" stroke-width="0.5"/>
<text x="321" y="160.28" font-size="3.5" font-weight="bold" fill="#111" stroke="#111" dominant-baseline="central">2</text>
<line x1="318.5" y1="148.95" x2="319.7" y2="148.95" stroke="#505050" stroke-width="0.5"/>
<text x="321" y="148.95" font-size="3.5" font-weight="bold" fill="#111" stroke="#111" dominant-baseline="central">4</text>
<line x1="318.5" y1="137.62" x2="319.7" y2="137.62" stroke="#505050" stroke-width="0.5"/>
<text x="321" y="137.62" font-size="3.5" font-weight="bold" fill="#111" stroke="#111" dominant-baseline="central">6</text>
<line x1="318.5" y1="126.3" x2="319.7" y2="126.3" stroke="#505050" stroke-width="0.5"/>
<text x="321" y="126.3" font-size="3.5" font-weight="bold" fill="#111" stroke="#111" dominant-baseline="central">8</text>
<line x1="250.9" y1="171.6" x2="250.9" y2="172.7" stroke="#505050" stroke-width="0.5"/>
<text x="250.9" y="176.2" font-size="3.5" font-weight="bold" text-anchor="middle" fill="#111" stroke="#111" dominant-baseline="central">0</text>
<line x1="259.35" y1="171.6" x2="259.35" y2="172.7" stroke="#505050" stroke-width="0.5"/>
<text x="259.35" y="176.2" font-size="3.5" font-weight="bold" text-anchor="middle" fill="#111" stroke="#111" dominant-baseline="central">1</text>
<line x1="267.8" y1="171.6" x2="267.8" y2="172.7" stroke="#505050" stroke-width="0.5"/>
<text x="267.8" y="176.2" font-size="3.5" font-weight="bold" text-anchor="middle" fill="#111" stroke="#111" dominant-baseline="central">2</text>
<line x1="276.25" y1="171.6" x2="276.25" y2="172.7" stroke="#505050" stroke-width="0.5"/>
<text x="276.25" y="176.2" font-size="3.5" font-weight="bold" text-anchor="middle" fill="#111" stroke="#111" dominant-baseline="central">3</text>
<line x1="284.7" y1="171.6" x2="284.7" y2="172.7" stroke="#505050" stroke-width="0.5"/>
<text x="284.7" y="176.2" font-size="3.5" font-weight="bold" text-anchor="middle" fill="#111" stroke="#111" dominant-baseline="central">4</text>
<line x1="293.15" y1="171.6" x2="293.15" y2="172.7" stroke="#505050" stroke-width="0.5"/>
<text x="293.15" y="176.2" font-size="3.5" font-weight="bold" text-anchor="middle" fill="#111" stroke="#111" dominant-baseline="central">5</text>
<line x1="301.6" y1="171.6" x2="301.6" y2="172.7" stroke="#505050" stroke-width="0.5"/>
<text x="301.6" y="176.2" font-size="3.5" font-weight="bold" text-anchor="middle" fill="#111" stroke="#111" dominant-baseline="central">6</text>
<line x1="310.05" y1="171.6" x2="310.05" y2="172.7" stroke="#505050" stroke-width="0.5"/>
<text x="310.05" y="176.2" font-size="3.5" font-weight="bold" text-anchor="middle" fill="#111" stroke="#111" dominant-baseline="central">7</text>
<line x1="318.5" y1="171.6" x2="318.5" y2="172.7" stroke="#505050" stroke-width="0.5"/>
<text x="318.5" y="176.2" font-size="3.5" font-weight="bold" text-anchor="middle" fill="#111" stroke="#111" dominant-baseline="central">8</text>
<polyline points="259.35,171.6 267.8,162.99 276.25,162.99 284.7,153.48 293.15,139.89 301.6,149.4 310.05,162.99" stroke="#f36a6a" stroke-width="0.55" fill="none"/>
<circle cx="259.35" cy="171.6" r="0.9" fill="#f03030"/>
<circle cx="267.8" cy="162.99" r="0.9" fill="#f03030"/>
<circle cx="276.25" cy="162.99" r="0.9" fill="#f03030"/>
<circle cx="284.7" cy="153.48" r="0.9" fill="#f03030"/>
<circle cx="293.15" cy="139.89" r="0.9" fill="#f03030"/>
<circle cx="301.6" cy="149.4" r="0.9" fill="#f03030"/>
<circle cx="310.05" cy="162.99" r="0.9" fill="#f03030"/>
<text x="284.7" y="181.9" font-size="3.8" font-weight="bold" text-anchor="middle" fill="#222" stroke="#222" dominant-baseline="central">Days post challenged (dpc)</text>
<text transform="translate(236.2 148.95) rotate(-90)" font-size="3.7" font-weight="bold" text-anchor="middle" fill="#222" stroke="#222" dominant-baseline="central">Copy numbers</text>
<text transform="translate(240.6 148.95) rotate(-90)" font-size="3.75" font-weight="bold" text-anchor="middle" fill="#222" stroke="#222" dominant-baseline="central">of viral RNA/0.1ml (log<tspan font-size="2.5" dy="0.6">10</tspan><tspan dy="-0.6">)</tspan></text>
<text transform="translate(327.7 148.95) rotate(90)" font-size="3.6" font-weight="bold" text-anchor="middle" fill="#222" stroke="#222" dominant-baseline="central">Clinical score</text>
<line x1="284.8" y1="118.1" x2="289.8" y2="118.1" stroke="#f36a6a" stroke-width="0.6"/>
<circle cx="287.3" cy="118.1" r="1" fill="#f03030"/>
<rect x="286.6" y="122.8" width="1.4" height="2.8" fill="#14146e"/>
<text x="292.9" y="118.1" font-size="3.6" font-weight="bold" fill="#222" stroke="#222" dominant-baseline="central">Swabs</text>
<text x="292.9" y="124.2" font-size="3.6" font-weight="bold" fill="#222" stroke="#222" dominant-baseline="central">Clinical score</text>
<text x="253.1" y="123.2" font-size="3.6" font-weight="bold" fill="#111" stroke="#111" dominant-baseline="central"># 3</text>
<rect x="54.38" y="246.8" width="1.7" height="17.7" fill="#14146e"/>
<rect x="63.19" y="246.8" width="1.7" height="17.7" fill="#14146e"/>
<line x1="37.6" y1="217.3" x2="37.6" y2="264.5" stroke="#505050" stroke-width="0.7"/>
<line x1="108.1" y1="217.3" x2="108.1" y2="264.5" stroke="#505050" stroke-width="0.7"/>
<line x1="37.6" y1="264.5" x2="108.1" y2="264.5" stroke="#505050" stroke-width="0.7"/>
<line x1="36.4" y1="264.5" x2="37.6" y2="264.5" stroke="#505050" stroke-width="0.5"/>
<text x="35.2" y="264.5" font-size="3.5" font-weight="bold" text-anchor="end" fill="#111" stroke="#111" dominant-baseline="central">0</text>
<line x1="36.4" y1="255.06" x2="37.6" y2="255.06" stroke="#505050" stroke-width="0.5"/>
<text x="35.2" y="255.06" font-size="3.5" font-weight="bold" text-anchor="end" fill="#111" stroke="#111" dominant-baseline="central">2</text>
<line x1="36.4" y1="245.62" x2="37.6" y2="245.62" stroke="#505050" stroke-width="0.5"/>
<text x="35.2" y="245.62" font-size="3.5" font-weight="bold" text-anchor="end" fill="#111" stroke="#111" dominant-baseline="central">4</text>
<line x1="36.4" y1="236.18" x2="37.6" y2="236.18" stroke="#505050" stroke-width="0.5"/>
<text x="35.2" y="236.18" font-size="3.5" font-weight="bold" text-anchor="end" fill="#111" stroke="#111" dominant-baseline="central">6</text>
<line x1="36.4" y1="226.74" x2="37.6" y2="226.74" stroke="#505050" stroke-width="0.5"/>
<text x="35.2" y="226.74" font-size="3.5" font-weight="bold" text-anchor="end" fill="#111" stroke="#111" dominant-baseline="central">8</text>
<line x1="36.4" y1="217.3" x2="37.6" y2="217.3" stroke="#505050" stroke-width="0.5"/>
<text x="35.2" y="217.3" font-size="3.5" font-weight="bold" text-anchor="end" fill="#111" stroke="#111" dominant-baseline="central">10</text>
<line x1="108.1" y1="264.5" x2="109.3" y2="264.5" stroke="#505050" stroke-width="0.5"/>
<text x="110.6" y="264.5" font-size="3.5" font-weight="bold" fill="#111" stroke="#111" dominant-baseline="central">0</text>
<line x1="108.1" y1="252.7" x2="109.3" y2="252.7" stroke="#505050" stroke-width="0.5"/>
<text x="110.6" y="252.7" font-size="3.5" font-weight="bold" fill="#111" stroke="#111" dominant-baseline="central">2</text>
<line x1="108.1" y1="240.9" x2="109.3" y2="240.9" stroke="#505050" stroke-width="0.5"/>
<text x="110.6" y="240.9" font-size="3.5" font-weight="bold" fill="#111" stroke="#111" dominant-baseline="central">4</text>
<line x1="108.1" y1="229.1" x2="109.3" y2="229.1" stroke="#505050" stroke-width="0.5"/>
<text x="110.6" y="229.1" font-size="3.5" font-weight="bold" fill="#111" stroke="#111" dominant-baseline="central">6</text>
<line x1="108.1" y1="217.3" x2="109.3" y2="217.3" stroke="#505050" stroke-width="0.5"/>
<text x="110.6" y="217.3" font-size="3.5" font-weight="bold" fill="#111" stroke="#111" dominant-baseline="central">8</text>
<line x1="37.6" y1="264.5" x2="37.6" y2="265.6" stroke="#505050" stroke-width="0.5"/>
<text x="37.6" y="269.1" font-size="3.5" font-weight="bold" text-anchor="middle" fill="#111" stroke="#111" dominant-baseline="central">0</text>
<line x1="46.41" y1="264.5" x2="46.41" y2="265.6" stroke="#505050" stroke-width="0.5"/>
<text x="46.41" y="269.1" font-size="3.5" font-weight="bold" text-anchor="middle" fill="#111" stroke="#111" dominant-baseline="central">1</text>
<line x1="55.23" y1="264.5" x2="55.23" y2="265.6" stroke="#505050" stroke-width="0.5"/>
<text x="55.23" y="269.1" font-size="3.5" font-weight="bold" text-anchor="middle" fill="#111" stroke="#111" dominant-baseline="central">2</text>
<line x1="64.04" y1="264.5" x2="64.04" y2="265.6" stroke="#505050" stroke-width="0.5"/>
<text x="64.04" y="269.1" font-size="3.5" font-weight="bold" text-anchor="middle" fill="#111" stroke="#111" dominant-baseline="central">3</text>
<line x1="72.85" y1="264.5" x2="72.85" y2="265.6" stroke="#505050" stroke-width="0.5"/>
<text x="72.85" y="269.1" font-size="3.5" font-weight="bold" text-anchor="middle" fill="#111" stroke="#111" dominant-baseline="central">4</text>
<line x1="81.66" y1="264.5" x2="81.66" y2="265.6" stroke="#505050" stroke-width="0.5"/>
<text x="81.66" y="269.1" font-size="3.5" font-weight="bold" text-anchor="middle" fill="#111" stroke="#111" dominant-baseline="central">5</text>
<line x1="90.47" y1="264.5" x2="90.47" y2="265.6" stroke="#505050" stroke-width="0.5"/>
<text x="90.47" y="269.1" font-size="3.5" font-weight="bold" text-anchor="middle" fill="#111" stroke="#111" dominant-baseline="central">6</text>
<line x1="99.29" y1="264.5" x2="99.29" y2="265.6" stroke="#505050" stroke-width="0.5"/>
<text x="99.29" y="269.1" font-size="3.5" font-weight="bold" text-anchor="middle" fill="#111" stroke="#111" dominant-baseline="central">7</text>
<line x1="108.1" y1="264.5" x2="108.1" y2="265.6" stroke="#505050" stroke-width="0.5"/>
<text x="108.1" y="269.1" font-size="3.5" font-weight="bold" text-anchor="middle" fill="#111" stroke="#111" dominant-baseline="central">8</text>
<polyline points="46.41,264.5 55.23,245.15 64.04,246.33" stroke="#f36a6a" stroke-width="0.55" fill="none"/>
<circle cx="46.41" cy="264.5" r="0.9" fill="#f03030"/>
<circle cx="55.23" cy="245.15" r="0.9" fill="#f03030"/>
<circle cx="64.04" cy="246.33" r="0.9" fill="#f03030"/>
<text x="72.85" y="274.8" font-size="3.8" font-weight="bold" text-anchor="middle" fill="#222" stroke="#222" dominant-baseline="central">Days post challenged (dpc)</text>
<text transform="translate(22.9 240.9) rotate(-90)" font-size="3.7" font-weight="bold" text-anchor="middle" fill="#222" stroke="#222" dominant-baseline="central">Copy numbers</text>
<text transform="translate(27.3 240.9) rotate(-90)" font-size="3.75" font-weight="bold" text-anchor="middle" fill="#222" stroke="#222" dominant-baseline="central">of viral RNA/0.1ml (log<tspan font-size="2.5" dy="0.6">10</tspan><tspan dy="-0.6">)</tspan></text>
<text transform="translate(117.3 240.9) rotate(90)" font-size="3.6" font-weight="bold" text-anchor="middle" fill="#222" stroke="#222" dominant-baseline="central">Clinical score</text>
<line x1="73" y1="209.1" x2="78" y2="209.1" stroke="#f36a6a" stroke-width="0.6"/>
<circle cx="75.5" cy="209.1" r="1" fill="#f03030"/>
<rect x="74.8" y="214" width="1.4" height="2.8" fill="#14146e"/>
<text x="81.2" y="209.1" font-size="3.6" font-weight="bold" fill="#222" stroke="#222" dominant-baseline="central">Swabs</text>
<text x="81.2" y="215.4" font-size="3.6" font-weight="bold" fill="#222" stroke="#222" dominant-baseline="central">Clinical score</text>
<text x="40" y="213.7" font-size="3.6" font-weight="bold" fill="#111" stroke="#111" dominant-baseline="central"># 4</text>
<rect x="161.4" y="253.79" width="1.7" height="11.56" fill="#14146e"/>
<rect x="169.78" y="236.44" width="1.7" height="28.91" fill="#14146e"/>
<line x1="145.5" y1="219.1" x2="145.5" y2="265.35" stroke="#505050" stroke-width="0.7"/>
<line x1="212.5" y1="219.1" x2="212.5" y2="265.35" stroke="#505050" stroke-width="0.7"/>
<line x1="145.5" y1="265.35" x2="212.5" y2="265.35" stroke="#505050" stroke-width="0.7"/>
<line x1="144.3" y1="265.35" x2="145.5" y2="265.35" stroke="#505050" stroke-width="0.5"/>
<text x="143.1" y="265.35" font-size="3.5" font-weight="bold" text-anchor="end" fill="#111" stroke="#111" dominant-baseline="central">0</text>
<line x1="144.3" y1="256.1" x2="145.5" y2="256.1" stroke="#505050" stroke-width="0.5"/>
<text x="143.1" y="256.1" font-size="3.5" font-weight="bold" text-anchor="end" fill="#111" stroke="#111" dominant-baseline="central">2</text>
<line x1="144.3" y1="246.85" x2="145.5" y2="246.85" stroke="#505050" stroke-width="0.5"/>
<text x="143.1" y="246.85" font-size="3.5" font-weight="bold" text-anchor="end" fill="#111" stroke="#111" dominant-baseline="central">4</text>
<line x1="144.3" y1="237.6" x2="145.5" y2="237.6" stroke="#505050" stroke-width="0.5"/>
<text x="143.1" y="237.6" font-size="3.5" font-weight="bold" text-anchor="end" fill="#111" stroke="#111" dominant-baseline="central">6</text>
<line x1="144.3" y1="228.35" x2="145.5" y2="228.35" stroke="#505050" stroke-width="0.5"/>
<text x="143.1" y="228.35" font-size="3.5" font-weight="bold" text-anchor="end" fill="#111" stroke="#111" dominant-baseline="central">8</text>
<line x1="144.3" y1="219.1" x2="145.5" y2="219.1" stroke="#505050" stroke-width="0.5"/>
<text x="143.1" y="219.1" font-size="3.5" font-weight="bold" text-anchor="end" fill="#111" stroke="#111" dominant-baseline="central">10</text>
<line x1="212.5" y1="265.35" x2="213.7" y2="265.35" stroke="#505050" stroke-width="0.5"/>
<text x="215" y="265.35" font-size="3.5" font-weight="bold" fill="#111" stroke="#111" dominant-baseline="central">0</text>
<line x1="212.5" y1="253.79" x2="213.7" y2="253.79" stroke="#505050" stroke-width="0.5"/>
<text x="215" y="253.79" font-size="3.5" font-weight="bold" fill="#111" stroke="#111" dominant-baseline="central">2</text>
<line x1="212.5" y1="242.23" x2="213.7" y2="242.23" stroke="#505050" stroke-width="0.5"/>
<text x="215" y="242.23" font-size="3.5" font-weight="bold" fill="#111" stroke="#111" dominant-baseline="central">4</text>
<line x1="212.5" y1="230.66" x2="213.7" y2="230.66" stroke="#505050" stroke-width="0.5"/>
<text x="215" y="230.66" font-size="3.5" font-weight="bold" fill="#111" stroke="#111" dominant-baseline="central">6</text>
<line x1="212.5" y1="219.1" x2="213.7" y2="219.1" stroke="#505050" stroke-width="0.5"/>
<text x="215" y="219.1" font-size="3.5" font-weight="bold" fill="#111" stroke="#111" dominant-baseline="central">8</text>
<line x1="145.5" y1="265.35" x2="145.5" y2="266.45" stroke="#505050" stroke-width="0.5"/>
<text x="145.5" y="269.95" font-size="3.5" font-weight="bold" text-anchor="middle" fill="#111" stroke="#111" dominant-baseline="central">0</text>
<line x1="153.88" y1="265.35" x2="153.88" y2="266.45" stroke="#505050" stroke-width="0.5"/>
<text x="153.88" y="269.95" font-size="3.5" font-weight="bold" text-anchor="middle" fill="#111" stroke="#111" dominant-baseline="central">1</text>
<line x1="162.25" y1="265.35" x2="162.25" y2="266.45" stroke="#505050" stroke-width="0.5"/>
<text x="162.25" y="269.95" font-size="3.5" font-weight="bold" text-anchor="middle" fill="#111" stroke="#111" dominant-baseline="central">2</text>
<line x1="170.62" y1="265.35" x2="170.62" y2="266.45" stroke="#505050" stroke-width="0.5"/>
<text x="170.62" y="269.95" font-size="3.5" font-weight="bold" text-anchor="middle" fill="#111" stroke="#111" dominant-baseline="central">3</text>
<line x1="179" y1="265.35" x2="179" y2="266.45" stroke="#505050" stroke-width="0.5"/>
<text x="179" y="269.95" font-size="3.5" font-weight="bold" text-anchor="middle" fill="#111" stroke="#111" dominant-baseline="central">4</text>
<line x1="187.38" y1="265.35" x2="187.38" y2="266.45" stroke="#505050" stroke-width="0.5"/>
<text x="187.38" y="269.95" font-size="3.5" font-weight="bold" text-anchor="middle" fill="#111" stroke="#111" dominant-baseline="central">5</text>
<line x1="195.75" y1="265.35" x2="195.75" y2="266.45" stroke="#505050" stroke-width="0.5"/>
<text x="195.75" y="269.95" font-size="3.5" font-weight="bold" text-anchor="middle" fill="#111" stroke="#111" dominant-baseline="central">6</text>
<line x1="204.12" y1="265.35" x2="204.12" y2="266.45" stroke="#505050" stroke-width="0.5"/>
<text x="204.12" y="269.95" font-size="3.5" font-weight="bold" text-anchor="middle" fill="#111" stroke="#111" dominant-baseline="central">7</text>
<line x1="212.5" y1="265.35" x2="212.5" y2="266.45" stroke="#505050" stroke-width="0.5"/>
<text x="212.5" y="269.95" font-size="3.5" font-weight="bold" text-anchor="middle" fill="#111" stroke="#111" dominant-baseline="central">8</text>
<polyline points="153.88,265.35 162.25,242.69 170.62,250.32" stroke="#f36a6a" stroke-width="0.55" fill="none"/>
<circle cx="153.88" cy="265.35" r="0.9" fill="#f03030"/>
<circle cx="162.25" cy="242.69" r="0.9" fill="#f03030"/>
<circle cx="170.62" cy="250.32" r="0.9" fill="#f03030"/>
<text x="179" y="275.65" font-size="3.8" font-weight="bold" text-anchor="middle" fill="#222" stroke="#222" dominant-baseline="central">Days post challenged (dpc)</text>
<text transform="translate(130.8 242.23) rotate(-90)" font-size="3.7" font-weight="bold" text-anchor="middle" fill="#222" stroke="#222" dominant-baseline="central">Copy numbers</text>
<text transform="translate(135.2 242.23) rotate(-90)" font-size="3.75" font-weight="bold" text-anchor="middle" fill="#222" stroke="#222" dominant-baseline="central">of viral RNA/0.1ml (log<tspan font-size="2.5" dy="0.6">10</tspan><tspan dy="-0.6">)</tspan></text>
<text transform="translate(221.7 242.23) rotate(90)" font-size="3.6" font-weight="bold" text-anchor="middle" fill="#222" stroke="#222" dominant-baseline="central">Clinical score</text>
<line x1="179" y1="210.8" x2="184" y2="210.8" stroke="#f36a6a" stroke-width="0.6"/>
<circle cx="181.5" cy="210.8" r="1" fill="#f03030"/>
<rect x="180.8" y="215.6" width="1.4" height="2.8" fill="#14146e"/>
<text x="187.2" y="210.8" font-size="3.6" font-weight="bold" fill="#222" stroke="#222" dominant-baseline="central">Swabs</text>
<text x="187.2" y="217" font-size="3.6" font-weight="bold" fill="#222" stroke="#222" dominant-baseline="central">Clinical score</text>
<text x="147.7" y="215.1" font-size="3.6" font-weight="bold" fill="#111" stroke="#111" dominant-baseline="central"># 5</text>
<rect x="259.54" y="235.56" width="1.7" height="28.94" fill="#14146e"/>
<rect x="267.92" y="229.77" width="1.7" height="34.73" fill="#14146e"/>
<rect x="276.31" y="229.77" width="1.7" height="34.73" fill="#14146e"/>
<line x1="252" y1="218.2" x2="252" y2="264.5" stroke="#505050" stroke-width="0.7"/>
<line x1="319.1" y1="218.2" x2="319.1" y2="264.5" stroke="#505050" stroke-width="0.7"/>
<line x1="252" y1="264.5" x2="319.1" y2="264.5" stroke="#505050" stroke-width="0.7"/>
<line x1="250.8" y1="264.5" x2="252" y2="264.5" stroke="#505050" stroke-width="0.5"/>
<text x="249.6" y="264.5" font-size="3.5" font-weight="bold" text-anchor="end" fill="#111" stroke="#111" dominant-baseline="central">0</text>
<line x1="250.8" y1="255.24" x2="252" y2="255.24" stroke="#505050" stroke-width="0.5"/>
<text x="249.6" y="255.24" font-size="3.5" font-weight="bold" text-anchor="end" fill="#111" stroke="#111" dominant-baseline="central">2</text>
<line x1="250.8" y1="245.98" x2="252" y2="245.98" stroke="#505050" stroke-width="0.5"/>
<text x="249.6" y="245.98" font-size="3.5" font-weight="bold" text-anchor="end" fill="#111" stroke="#111" dominant-baseline="central">4</text>
<line x1="250.8" y1="236.72" x2="252" y2="236.72" stroke="#505050" stroke-width="0.5"/>
<text x="249.6" y="236.72" font-size="3.5" font-weight="bold" text-anchor="end" fill="#111" stroke="#111" dominant-baseline="central">6</text>
<line x1="250.8" y1="227.46" x2="252" y2="227.46" stroke="#505050" stroke-width="0.5"/>
<text x="249.6" y="227.46" font-size="3.5" font-weight="bold" text-anchor="end" fill="#111" stroke="#111" dominant-baseline="central">8</text>
<line x1="250.8" y1="218.2" x2="252" y2="218.2" stroke="#505050" stroke-width="0.5"/>
<text x="249.6" y="218.2" font-size="3.5" font-weight="bold" text-anchor="end" fill="#111" stroke="#111" dominant-baseline="central">10</text>
<line x1="319.1" y1="264.5" x2="320.3" y2="264.5" stroke="#505050" stroke-width="0.5"/>
<text x="321.6" y="264.5" font-size="3.5" font-weight="bold" fill="#111" stroke="#111" dominant-baseline="central">0</text>
<line x1="319.1" y1="252.93" x2="320.3" y2="252.93" stroke="#505050" stroke-width="0.5"/>
<text x="321.6" y="252.93" font-size="3.5" font-weight="bold" fill="#111" stroke="#111" dominant-baseline="central">2</text>
<line x1="319.1" y1="241.35" x2="320.3" y2="241.35" stroke="#505050" stroke-width="0.5"/>
<text x="321.6" y="241.35" font-size="3.5" font-weight="bold" fill="#111" stroke="#111" dominant-baseline="central">4</text>
<line x1="319.1" y1="229.77" x2="320.3" y2="229.77" stroke="#505050" stroke-width="0.5"/>
<text x="321.6" y="229.77" font-size="3.5" font-weight="bold" fill="#111" stroke="#111" dominant-baseline="central">6</text>
<line x1="319.1" y1="218.2" x2="320.3" y2="218.2" stroke="#505050" stroke-width="0.5"/>
<text x="321.6" y="218.2" font-size="3.5" font-weight="bold" fill="#111" stroke="#111" dominant-baseline="central">8</text>
<line x1="252" y1="264.5" x2="252" y2="265.6" stroke="#505050" stroke-width="0.5"/>
<text x="252" y="269.1" font-size="3.5" font-weight="bold" text-anchor="middle" fill="#111" stroke="#111" dominant-baseline="central">0</text>
<line x1="260.39" y1="264.5" x2="260.39" y2="265.6" stroke="#505050" stroke-width="0.5"/>
<text x="260.39" y="269.1" font-size="3.5" font-weight="bold" text-anchor="middle" fill="#111" stroke="#111" dominant-baseline="central">1</text>
<line x1="268.77" y1="264.5" x2="268.77" y2="265.6" stroke="#505050" stroke-width="0.5"/>
<text x="268.77" y="269.1" font-size="3.5" font-weight="bold" text-anchor="middle" fill="#111" stroke="#111" dominant-baseline="central">2</text>
<line x1="277.16" y1="264.5" x2="277.16" y2="265.6" stroke="#505050" stroke-width="0.5"/>
<text x="277.16" y="269.1" font-size="3.5" font-weight="bold" text-anchor="middle" fill="#111" stroke="#111" dominant-baseline="central">3</text>
<line x1="285.55" y1="264.5" x2="285.55" y2="265.6" stroke="#505050" stroke-width="0.5"/>
<text x="285.55" y="269.1" font-size="3.5" font-weight="bold" text-anchor="middle" fill="#111" stroke="#111" dominant-baseline="central">4</text>
<line x1="293.94" y1="264.5" x2="293.94" y2="265.6" stroke="#505050" stroke-width="0.5"/>
<text x="293.94" y="269.1" font-size="3.5" font-weight="bold" text-anchor="middle" fill="#111" stroke="#111" dominant-baseline="central">5</text>
<line x1="302.33" y1="264.5" x2="302.33" y2="265.6" stroke="#505050" stroke-width="0.5"/>
<text x="302.33" y="269.1" font-size="3.5" font-weight="bold" text-anchor="middle" fill="#111" stroke="#111" dominant-baseline="central">6</text>
<line x1="310.71" y1="264.5" x2="310.71" y2="265.6" stroke="#505050" stroke-width="0.5"/>
<text x="310.71" y="269.1" font-size="3.5" font-weight="bold" text-anchor="middle" fill="#111" stroke="#111" dominant-baseline="central">7</text>
<line x1="319.1" y1="264.5" x2="319.1" y2="265.6" stroke="#505050" stroke-width="0.5"/>
<text x="319.1" y="269.1" font-size="3.5" font-weight="bold" text-anchor="middle" fill="#111" stroke="#111" dominant-baseline="central">8</text>
<polyline points="260.39,264.5 268.77,240.66 277.16,243.66" stroke="#f36a6a" stroke-width="0.55" fill="none"/>
<circle cx="260.39" cy="264.5" r="0.9" fill="#f03030"/>
<circle cx="268.77" cy="240.66" r="0.9" fill="#f03030"/>
<circle cx="277.16" cy="243.66" r="0.9" fill="#f03030"/>
<text x="285.55" y="274.8" font-size="3.8" font-weight="bold" text-anchor="middle" fill="#222" stroke="#222" dominant-baseline="central">Days post challenged (dpc)</text>
<text transform="translate(237.3 241.35) rotate(-90)" font-size="3.7" font-weight="bold" text-anchor="middle" fill="#222" stroke="#222" dominant-baseline="central">Copy numbers</text>
<text transform="translate(241.7 241.35) rotate(-90)" font-size="3.75" font-weight="bold" text-anchor="middle" fill="#222" stroke="#222" dominant-baseline="central">of viral RNA/0.1ml (log<tspan font-size="2.5" dy="0.6">10</tspan><tspan dy="-0.6">)</tspan></text>
<text transform="translate(328.3 241.35) rotate(90)" font-size="3.6" font-weight="bold" text-anchor="middle" fill="#222" stroke="#222" dominant-baseline="central">Clinical score</text>
<line x1="285.2" y1="209.8" x2="290.2" y2="209.8" stroke="#f36a6a" stroke-width="0.6"/>
<circle cx="287.7" cy="209.8" r="1" fill="#f03030"/>
<rect x="287" y="214.6" width="1.4" height="2.8" fill="#14146e"/>
<text x="293.2" y="209.8" font-size="3.6" font-weight="bold" fill="#222" stroke="#222" dominant-baseline="central">Swabs</text>
<text x="293.2" y="216" font-size="3.6" font-weight="bold" fill="#222" stroke="#222" dominant-baseline="central">Clinical score</text>
<text x="254.4" y="214.1" font-size="3.6" font-weight="bold" fill="#111" stroke="#111" dominant-baseline="central"># 6</text>
<line x1="38.9" y1="312.8" x2="38.9" y2="359.5" stroke="#505050" stroke-width="0.7"/>
<line x1="108.9" y1="312.8" x2="108.9" y2="359.5" stroke="#505050" stroke-width="0.7"/>
<line x1="38.9" y1="359.5" x2="108.9" y2="359.5" stroke="#505050" stroke-width="0.7"/>
<line x1="37.7" y1="359.5" x2="38.9" y2="359.5" stroke="#505050" stroke-width="0.5"/>
<text x="36.5" y="359.5" font-size="3.5" font-weight="bold" text-anchor="end" fill="#111" stroke="#111" dominant-baseline="central">0</text>
<line x1="37.7" y1="350.16" x2="38.9" y2="350.16" stroke="#505050" stroke-width="0.5"/>
<text x="36.5" y="350.16" font-size="3.5" font-weight="bold" text-anchor="end" fill="#111" stroke="#111" dominant-baseline="central">2</text>
<line x1="37.7" y1="340.82" x2="38.9" y2="340.82" stroke="#505050" stroke-width="0.5"/>
<text x="36.5" y="340.82" font-size="3.5" font-weight="bold" text-anchor="end" fill="#111" stroke="#111" dominant-baseline="central">4</text>
<line x1="37.7" y1="331.48" x2="38.9" y2="331.48" stroke="#505050" stroke-width="0.5"/>
<text x="36.5" y="331.48" font-size="3.5" font-weight="bold" text-anchor="end" fill="#111" stroke="#111" dominant-baseline="central">6</text>
<line x1="37.7" y1="322.14" x2="38.9" y2="322.14" stroke="#505050" stroke-width="0.5"/>
<text x="36.5" y="322.14" font-size="3.5" font-weight="bold" text-anchor="end" fill="#111" stroke="#111" dominant-baseline="central">8</text>
<line x1="37.7" y1="312.8" x2="38.9" y2="312.8" stroke="#505050" stroke-width="0.5"/>
<text x="36.5" y="312.8" font-size="3.5" font-weight="bold" text-anchor="end" fill="#111" stroke="#111" dominant-baseline="central">10</text>
<line x1="108.9" y1="359.5" x2="110.1" y2="359.5" stroke="#505050" stroke-width="0.5"/>
<text x="111.4" y="359.5" font-size="3.5" font-weight="bold" fill="#111" stroke="#111" dominant-baseline="central">0</text>
<line x1="108.9" y1="347.82" x2="110.1" y2="347.82" stroke="#505050" stroke-width="0.5"/>
<text x="111.4" y="347.82" font-size="3.5" font-weight="bold" fill="#111" stroke="#111" dominant-baseline="central">2</text>
<line x1="108.9" y1="336.15" x2="110.1" y2="336.15" stroke="#505050" stroke-width="0.5"/>
<text x="111.4" y="336.15" font-size="3.5" font-weight="bold" fill="#111" stroke="#111" dominant-baseline="central">4</text>
<line x1="108.9" y1="324.48" x2="110.1" y2="324.48" stroke="#505050" stroke-width="0.5"/>
<text x="111.4" y="324.48" font-size="3.5" font-weight="bold" fill="#111" stroke="#111" dominant-baseline="central">6</text>
<line x1="108.9" y1="312.8" x2="110.1" y2="312.8" stroke="#505050" stroke-width="0.5"/>
<text x="111.4" y="312.8" font-size="3.5" font-weight="bold" fill="#111" stroke="#111" dominant-baseline="central">8</text>
<line x1="38.9" y1="359.5" x2="38.9" y2="360.6" stroke="#505050" stroke-width="0.5"/>
<text x="38.9" y="364.1" font-size="3.5" font-weight="bold" text-anchor="middle" fill="#111" stroke="#111" dominant-baseline="central">0</text>
<line x1="47.65" y1="359.5" x2="47.65" y2="360.6" stroke="#505050" stroke-width="0.5"/>
<text x="47.65" y="364.1" font-size="3.5" font-weight="bold" text-anchor="middle" fill="#111" stroke="#111" dominant-baseline="central">1</text>
<line x1="56.4" y1="359.5" x2="56.4" y2="360.6" stroke="#505050" stroke-width="0.5"/>
<text x="56.4" y="364.1" font-size="3.5" font-weight="bold" text-anchor="middle" fill="#111" stroke="#111" dominant-baseline="central">2</text>
<line x1="65.15" y1="359.5" x2="65.15" y2="360.6" stroke="#505050" stroke-width="0.5"/>
<text x="65.15" y="364.1" font-size="3.5" font-weight="bold" text-anchor="middle" fill="#111" stroke="#111" dominant-baseline="central">3</text>
<line x1="73.9" y1="359.5" x2="73.9" y2="360.6" stroke="#505050" stroke-width="0.5"/>
<text x="73.9" y="364.1" font-size="3.5" font-weight="bold" text-anchor="middle" fill="#111" stroke="#111" dominant-baseline="central">4</text>
<line x1="82.65" y1="359.5" x2="82.65" y2="360.6" stroke="#505050" stroke-width="0.5"/>
<text x="82.65" y="364.1" font-size="3.5" font-weight="bold" text-anchor="middle" fill="#111" stroke="#111" dominant-baseline="central">5</text>
<line x1="91.4" y1="359.5" x2="91.4" y2="360.6" stroke="#505050" stroke-width="0.5"/>
<text x="91.4" y="364.1" font-size="3.5" font-weight="bold" text-anchor="middle" fill="#111" stroke="#111" dominant-baseline="central">6</text>
<line x1="100.15" y1="359.5" x2="100.15" y2="360.6" stroke="#505050" stroke-width="0.5"/>
<text x="100.15" y="364.1" font-size="3.5" font-weight="bold" text-anchor="middle" fill="#111" stroke="#111" dominant-baseline="central">7</text>
<line x1="108.9" y1="359.5" x2="108.9" y2="360.6" stroke="#505050" stroke-width="0.5"/>
<text x="108.9" y="364.1" font-size="3.5" font-weight="bold" text-anchor="middle" fill="#111" stroke="#111" dominant-baseline="central">8</text>
<polyline points="47.65,359.5 56.4,359.03 65.15,358.57 73.9,354.83 82.65,355.06 91.4,354.36 100.15,356.7" stroke="#f36a6a" stroke-width="0.55" fill="none"/>
<circle cx="47.65" cy="359.5" r="0.9" fill="#f03030"/>
<circle cx="56.4" cy="359.03" r="0.9" fill="#f03030"/>
<circle cx="65.15" cy="358.57" r="0.9" fill="#f03030"/>
<circle cx="73.9" cy="354.83" r="0.9" fill="#f03030"/>
<circle cx="82.65" cy="355.06" r="0.9" fill="#f03030"/>
<circle cx="91.4" cy="354.36" r="0.9" fill="#f03030"/>
<circle cx="100.15" cy="356.7" r="0.9" fill="#f03030"/>
<text x="73.9" y="369.8" font-size="3.8" font-weight="bold" text-anchor="middle" fill="#222" stroke="#222" dominant-baseline="central">Days post challenged (dpc)</text>
<text transform="translate(24.2 336.15) rotate(-90)" font-size="3.7" font-weight="bold" text-anchor="middle" fill="#222" stroke="#222" dominant-baseline="central">Copy numbers</text>
<text transform="translate(28.6 336.15) rotate(-90)" font-size="3.75" font-weight="bold" text-anchor="middle" fill="#222" stroke="#222" dominant-baseline="central">of viral RNA/0.1ml (log<tspan font-size="2.5" dy="0.6">10</tspan><tspan dy="-0.6">)</tspan></text>
<text transform="translate(118.1 336.15) rotate(90)" font-size="3.6" font-weight="bold" text-anchor="middle" fill="#222" stroke="#222" dominant-baseline="central">Clinical score</text>
<line x1="73.9" y1="304.5" x2="78.9" y2="304.5" stroke="#f36a6a" stroke-width="0.6"/>
<circle cx="76.4" cy="304.5" r="1" fill="#f03030"/>
<rect x="75.7" y="309.2" width="1.4" height="2.8" fill="#14146e"/>
<text x="82.3" y="304.5" font-size="3.6" font-weight="bold" fill="#222" stroke="#222" dominant-baseline="central">Swabs</text>
<text x="82.3" y="310.6" font-size="3.6" font-weight="bold" fill="#222" stroke="#222" dominant-baseline="central">Clinical score</text>
<text x="41" y="308.6" font-size="3.6" font-weight="bold" fill="#111" stroke="#111" dominant-baseline="central"># 7</text>
<line x1="146" y1="313.7" x2="146" y2="359.6" stroke="#505050" stroke-width="0.7"/>
<line x1="213.3" y1="313.7" x2="213.3" y2="359.6" stroke="#505050" stroke-width="0.7"/>
<line x1="146" y1="359.6" x2="213.3" y2="359.6" stroke="#505050" stroke-width="0.7"/>
<line x1="144.8" y1="359.6" x2="146" y2="359.6" stroke="#505050" stroke-width="0.5"/>
<text x="143.6" y="359.6" font-size="3.5" font-weight="bold" text-anchor="end" fill="#111" stroke="#111" dominant-baseline="central">0</text>
<line x1="144.8" y1="350.42" x2="146" y2="350.42" stroke="#505050" stroke-width="0.5"/>
<text x="143.6" y="350.42" font-size="3.5" font-weight="bold" text-anchor="end" fill="#111" stroke="#111" dominant-baseline="central">2</text>
<line x1="144.8" y1="341.24" x2="146" y2="341.24" stroke="#505050" stroke-width="0.5"/>
<text x="143.6" y="341.24" font-size="3.5" font-weight="bold" text-anchor="end" fill="#111" stroke="#111" dominant-baseline="central">4</text>
<line x1="144.8" y1="332.06" x2="146" y2="332.06" stroke="#505050" stroke-width="0.5"/>
<text x="143.6" y="332.06" font-size="3.5" font-weight="bold" text-anchor="end" fill="#111" stroke="#111" dominant-baseline="central">6</text>
<line x1="144.8" y1="322.88" x2="146" y2="322.88" stroke="#505050" stroke-width="0.5"/>
<text x="143.6" y="322.88" font-size="3.5" font-weight="bold" text-anchor="end" fill="#111" stroke="#111" dominant-baseline="central">8</text>
<line x1="144.8" y1="313.7" x2="146" y2="313.7" stroke="#505050" stroke-width="0.5"/>
<text x="143.6" y="313.7" font-size="3.5" font-weight="bold" text-anchor="end" fill="#111" stroke="#111" dominant-baseline="central">10</text>
<line x1="213.3" y1="359.6" x2="214.5" y2="359.6" stroke="#505050" stroke-width="0.5"/>
<text x="215.8" y="359.6" font-size="3.5" font-weight="bold" fill="#111" stroke="#111" dominant-baseline="central">0</text>
<line x1="213.3" y1="348.12" x2="214.5" y2="348.12" stroke="#505050" stroke-width="0.5"/>
<text x="215.8" y="348.12" font-size="3.5" font-weight="bold" fill="#111" stroke="#111" dominant-baseline="central">2</text>
<line x1="213.3" y1="336.65" x2="214.5" y2="336.65" stroke="#505050" stroke-width="0.5"/>
<text x="215.8" y="336.65" font-size="3.5" font-weight="bold" fill="#111" stroke="#111" dominant-baseline="central">4</text>
<line x1="213.3" y1="325.18" x2="214.5" y2="325.18" stroke="#505050" stroke-width="0.5"/>
<text x="215.8" y="325.18" font-size="3.5" font-weight="bold" fill="#111" stroke="#111" dominant-baseline="central">6</text>
<line x1="213.3" y1="313.7" x2="214.5" y2="313.7" stroke="#505050" stroke-width="0.5"/>
<text x="215.8" y="313.7" font-size="3.5" font-weight="bold" fill="#111" stroke="#111" dominant-baseline="central">8</text>
<line x1="146" y1="359.6" x2="146" y2="360.7" stroke="#505050" stroke-width="0.5"/>
<text x="146" y="364.2" font-size="3.5" font-weight="bold" text-anchor="middle" fill="#111" stroke="#111" dominant-baseline="central">0</text>
<line x1="154.41" y1="359.6" x2="154.41" y2="360.7" stroke="#505050" stroke-width="0.5"/>
<text x="154.41" y="364.2" font-size="3.5" font-weight="bold" text-anchor="middle" fill="#111" stroke="#111" dominant-baseline="central">1</text>
<line x1="162.82" y1="359.6" x2="162.82" y2="360.7" stroke="#505050" stroke-width="0.5"/>
<text x="162.82" y="364.2" font-size="3.5" font-weight="bold" text-anchor="middle" fill="#111" stroke="#111" dominant-baseline="central">2</text>
<line x1="171.24" y1="359.6" x2="171.24" y2="360.7" stroke="#505050" stroke-width="0.5"/>
<text x="171.24" y="364.2" font-size="3.5" font-weight="bold" text-anchor="middle" fill="#111" stroke="#111" dominant-baseline="central">3</text>
<line x1="179.65" y1="359.6" x2="179.65" y2="360.7" stroke="#505050" stroke-width="0.5"/>
<text x="179.65" y="364.2" font-size="3.5" font-weight="bold" text-anchor="middle" fill="#111" stroke="#111" dominant-baseline="central">4</text>
<line x1="188.06" y1="359.6" x2="188.06" y2="360.7" stroke="#505050" stroke-width="0.5"/>
<text x="188.06" y="364.2" font-size="3.5" font-weight="bold" text-anchor="middle" fill="#111" stroke="#111" dominant-baseline="central">5</text>
<line x1="196.48" y1="359.6" x2="196.48" y2="360.7" stroke="#505050" stroke-width="0.5"/>
<text x="196.48" y="364.2" font-size="3.5" font-weight="bold" text-anchor="middle" fill="#111" stroke="#111" dominant-baseline="central">6</text>
<line x1="204.89" y1="359.6" x2="204.89" y2="360.7" stroke="#505050" stroke-width="0.5"/>
<text x="204.89" y="364.2" font-size="3.5" font-weight="bold" text-anchor="middle" fill="#111" stroke="#111" dominant-baseline="central">7</text>
<line x1="213.3" y1="359.6" x2="213.3" y2="360.7" stroke="#505050" stroke-width="0.5"/>
<text x="213.3" y="364.2" font-size="3.5" font-weight="bold" text-anchor="middle" fill="#111" stroke="#111" dominant-baseline="central">8</text>
<polyline points="154.41,359.6 162.82,359.6 171.24,357.76 179.65,354.55 188.06,355.24 196.48,355.47 204.89,356.39" stroke="#f36a6a" stroke-width="0.55" fill="none"/>
<circle cx="154.41" cy="359.6" r="0.9" fill="#f03030"/>
<circle cx="162.82" cy="359.6" r="0.9" fill="#f03030"/>
<circle cx="171.24" cy="357.76" r="0.9" fill="#f03030"/>
<circle cx="179.65" cy="354.55" r="0.9" fill="#f03030"/>
<circle cx="188.06" cy="355.24" r="0.9" fill="#f03030"/>
<circle cx="196.48" cy="355.47" r="0.9" fill="#f03030"/>
<circle cx="204.89" cy="356.39" r="0.9" fill="#f03030"/>
<text x="179.65" y="369.9" font-size="3.8" font-weight="bold" text-anchor="middle" fill="#222" stroke="#222" dominant-baseline="central">Days post challenged (dpc)</text>
<text transform="translate(131.3 336.65) rotate(-90)" font-size="3.7" font-weight="bold" text-anchor="middle" fill="#222" stroke="#222" dominant-baseline="central">Copy numbers</text>
<text transform="translate(135.7 336.65) rotate(-90)" font-size="3.75" font-weight="bold" text-anchor="middle" fill="#222" stroke="#222" dominant-baseline="central">of viral RNA/0.1ml (log<tspan font-size="2.5" dy="0.6">10</tspan><tspan dy="-0.6">)</tspan></text>
<text transform="translate(222.5 336.65) rotate(90)" font-size="3.6" font-weight="bold" text-anchor="middle" fill="#222" stroke="#222" dominant-baseline="central">Clinical score</text>
<line x1="179.7" y1="305.8" x2="184.7" y2="305.8" stroke="#f36a6a" stroke-width="0.6"/>
<circle cx="182.2" cy="305.8" r="1" fill="#f03030"/>
<rect x="181.5" y="310.7" width="1.4" height="2.8" fill="#14146e"/>
<text x="187.6" y="305.8" font-size="3.6" font-weight="bold" fill="#222" stroke="#222" dominant-baseline="central">Swabs</text>
<text x="187.6" y="312.1" font-size="3.6" font-weight="bold" fill="#222" stroke="#222" dominant-baseline="central">Clinical score</text>
<text x="148.1" y="310.4" font-size="3.6" font-weight="bold" fill="#111" stroke="#111" dominant-baseline="central"># 8</text>
<line x1="253.3" y1="313.2" x2="253.3" y2="359.5" stroke="#505050" stroke-width="0.7"/>
<line x1="320.3" y1="313.2" x2="320.3" y2="359.5" stroke="#505050" stroke-width="0.7"/>
<line x1="253.3" y1="359.5" x2="320.3" y2="359.5" stroke="#505050" stroke-width="0.7"/>
<line x1="252.1" y1="359.5" x2="253.3" y2="359.5" stroke="#505050" stroke-width="0.5"/>
<text x="250.9" y="359.5" font-size="3.5" font-weight="bold" text-anchor="end" fill="#111" stroke="#111" dominant-baseline="central">0</text>
<line x1="252.1" y1="350.24" x2="253.3" y2="350.24" stroke="#505050" stroke-width="0.5"/>
<text x="250.9" y="350.24" font-size="3.5" font-weight="bold" text-anchor="end" fill="#111" stroke="#111" dominant-baseline="central">2</text>
<line x1="252.1" y1="340.98" x2="253.3" y2="340.98" stroke="#505050" stroke-width="0.5"/>
<text x="250.9" y="340.98" font-size="3.5" font-weight="bold" text-anchor="end" fill="#111" stroke="#111" dominant-baseline="central">4</text>
<line x1="252.1" y1="331.72" x2="253.3" y2="331.72" stroke="#505050" stroke-width="0.5"/>
<text x="250.9" y="331.72" font-size="3.5" font-weight="bold" text-anchor="end" fill="#111" stroke="#111" dominant-baseline="central">6</text>
<line x1="252.1" y1="322.46" x2="253.3" y2="322.46" stroke="#505050" stroke-width="0.5"/>
<text x="250.9" y="322.46" font-size="3.5" font-weight="bold" text-anchor="end" fill="#111" stroke="#111" dominant-baseline="central">8</text>
<line x1="252.1" y1="313.2" x2="253.3" y2="313.2" stroke="#505050" stroke-width="0.5"/>
<text x="250.9" y="313.2" font-size="3.5" font-weight="bold" text-anchor="end" fill="#111" stroke="#111" dominant-baseline="central">10</text>
<line x1="320.3" y1="359.5" x2="321.5" y2="359.5" stroke="#505050" stroke-width="0.5"/>
<text x="322.8" y="359.5" font-size="3.5" font-weight="bold" fill="#111" stroke="#111" dominant-baseline="central">0</text>
<line x1="320.3" y1="347.93" x2="321.5" y2="347.93" stroke="#505050" stroke-width="0.5"/>
<text x="322.8" y="347.93" font-size="3.5" font-weight="bold" fill="#111" stroke="#111" dominant-baseline="central">2</text>
<line x1="320.3" y1="336.35" x2="321.5" y2="336.35" stroke="#505050" stroke-width="0.5"/>
<text x="322.8" y="336.35" font-size="3.5" font-weight="bold" fill="#111" stroke="#111" dominant-baseline="central">4</text>
<line x1="320.3" y1="324.77" x2="321.5" y2="324.77" stroke="#505050" stroke-width="0.5"/>
<text x="322.8" y="324.77" font-size="3.5" font-weight="bold" fill="#111" stroke="#111" dominant-baseline="central">6</text>
<line x1="320.3" y1="313.2" x2="321.5" y2="313.2" stroke="#505050" stroke-width="0.5"/>
<text x="322.8" y="313.2" font-size="3.5" font-weight="bold" fill="#111" stroke="#111" dominant-baseline="central">8</text>
<line x1="253.3" y1="359.5" x2="253.3" y2="360.6" stroke="#505050" stroke-width="0.5"/>
<text x="253.3" y="364.1" font-size="3.5" font-weight="bold" text-anchor="middle" fill="#111" stroke="#111" dominant-baseline="central">0</text>
<line x1="261.68" y1="359.5" x2="261.68" y2="360.6" stroke="#505050" stroke-width="0.5"/>
<text x="261.68" y="364.1" font-size="3.5" font-weight="bold" text-anchor="middle" fill="#111" stroke="#111" dominant-baseline="central">1</text>
<line x1="270.05" y1="359.5" x2="270.05" y2="360.6" stroke="#505050" stroke-width="0.5"/>
<text x="270.05" y="364.1" font-size="3.5" font-weight="bold" text-anchor="middle" fill="#111" stroke="#111" dominant-baseline="central">2</text>
<line x1="278.43" y1="359.5" x2="278.43" y2="360.6" stroke="#505050" stroke-width="0.5"/>
<text x="278.43" y="364.1" font-size="3.5" font-weight="bold" text-anchor="middle" fill="#111" stroke="#111" dominant-baseline="central">3</text>
<line x1="286.8" y1="359.5" x2="286.8" y2="360.6" stroke="#505050" stroke-width="0.5"/>
<text x="286.8" y="364.1" font-size="3.5" font-weight="bold" text-anchor="middle" fill="#111" stroke="#111" dominant-baseline="central">4</text>
<line x1="295.18" y1="359.5" x2="295.18" y2="360.6" stroke="#505050" stroke-width="0.5"/>
<text x="295.18" y="364.1" font-size="3.5" font-weight="bold" text-anchor="middle" fill="#111" stroke="#111" dominant-baseline="central">5</text>
<line x1="303.55" y1="359.5" x2="303.55" y2="360.6" stroke="#505050" stroke-width="0.5"/>
<text x="303.55" y="364.1" font-size="3.5" font-weight="bold" text-anchor="middle" fill="#111" stroke="#111" dominant-baseline="central">6</text>
<line x1="311.93" y1="359.5" x2="311.93" y2="360.6" stroke="#505050" stroke-width="0.5"/>
<text x="311.93" y="364.1" font-size="3.5" font-weight="bold" text-anchor="middle" fill="#111" stroke="#111" dominant-baseline="central">7</text>
<line x1="320.3" y1="359.5" x2="320.3" y2="360.6" stroke="#505050" stroke-width="0.5"/>
<text x="320.3" y="364.1" font-size="3.5" font-weight="bold" text-anchor="middle" fill="#111" stroke="#111" dominant-baseline="central">8</text>
<polyline points="261.68,359.5 270.05,359.5 278.43,359.04 286.8,355.33 295.18,353.94 303.55,356.26 311.93,356.72" stroke="#f36a6a" stroke-width="0.55" fill="none"/>
<circle cx="261.68" cy="359.5" r="0.9" fill="#f03030"/>
<circle cx="270.05" cy="359.5" r="0.9" fill="#f03030"/>
<circle cx="278.43" cy="359.04" r="0.9" fill="#f03030"/>
<circle cx="286.8" cy="355.33" r="0.9" fill="#f03030"/>
<circle cx="295.18" cy="353.94" r="0.9" fill="#f03030"/>
<circle cx="303.55" cy="356.26" r="0.9" fill="#f03030"/>
<circle cx="311.93" cy="356.72" r="0.9" fill="#f03030"/>
<text x="286.8" y="369.8" font-size="3.8" font-weight="bold" text-anchor="middle" fill="#222" stroke="#222" dominant-baseline="central">Days post challenged (dpc)</text>
<text transform="translate(238.6 336.35) rotate(-90)" font-size="3.7" font-weight="bold" text-anchor="middle" fill="#222" stroke="#222" dominant-baseline="central">Copy numbers</text>
<text transform="translate(243 336.35) rotate(-90)" font-size="3.75" font-weight="bold" text-anchor="middle" fill="#222" stroke="#222" dominant-baseline="central">of viral RNA/0.1ml (log<tspan font-size="2.5" dy="0.6">10</tspan><tspan dy="-0.6">)</tspan></text>
<text transform="translate(329.5 336.35) rotate(90)" font-size="3.6" font-weight="bold" text-anchor="middle" fill="#222" stroke="#222" dominant-baseline="central">Clinical score</text>
<line x1="286.4" y1="304.8" x2="291.4" y2="304.8" stroke="#f36a6a" stroke-width="0.6"/>
<circle cx="288.9" cy="304.8" r="1" fill="#f03030"/>
<rect x="288.2" y="309.5" width="1.4" height="2.8" fill="#14146e"/>
<text x="294.3" y="304.8" font-size="3.6" font-weight="bold" fill="#222" stroke="#222" dominant-baseline="central">Swabs</text>
<text x="294.3" y="310.9" font-size="3.6" font-weight="bold" fill="#222" stroke="#222" dominant-baseline="central">Clinical score</text>
<text x="255.5" y="309.1" font-size="3.6" font-weight="bold" fill="#111" stroke="#111" dominant-baseline="central"># 9</text>
<line x1="358.3" y1="312.2" x2="358.3" y2="358.5" stroke="#505050" stroke-width="0.7"/>
<line x1="425.3" y1="312.2" x2="425.3" y2="358.5" stroke="#505050" stroke-width="0.7"/>
<line x1="358.3" y1="358.5" x2="425.3" y2="358.5" stroke="#505050" stroke-width="0.7"/>
<line x1="357.1" y1="358.5" x2="358.3" y2="358.5" stroke="#505050" stroke-width="0.5"/>
<text x="355.9" y="358.5" font-size="3.5" font-weight="bold" text-anchor="end" fill="#111" stroke="#111" dominant-baseline="central">0</text>
<line x1="357.1" y1="349.24" x2="358.3" y2="349.24" stroke="#505050" stroke-width="0.5"/>
<text x="355.9" y="349.24" font-size="3.5" font-weight="bold" text-anchor="end" fill="#111" stroke="#111" dominant-baseline="central">2</text>
<line x1="357.1" y1="339.98" x2="358.3" y2="339.98" stroke="#505050" stroke-width="0.5"/>
<text x="355.9" y="339.98" font-size="3.5" font-weight="bold" text-anchor="end" fill="#111" stroke="#111" dominant-baseline="central">4</text>
<line x1="357.1" y1="330.72" x2="358.3" y2="330.72" stroke="#505050" stroke-width="0.5"/>
<text x="355.9" y="330.72" font-size="3.5" font-weight="bold" text-anchor="end" fill="#111" stroke="#111" dominant-baseline="central">6</text>
<line x1="357.1" y1="321.46" x2="358.3" y2="321.46" stroke="#505050" stroke-width="0.5"/>
<text x="355.9" y="321.46" font-size="3.5" font-weight="bold" text-anchor="end" fill="#111" stroke="#111" dominant-baseline="central">8</text>
<line x1="357.1" y1="312.2" x2="358.3" y2="312.2" stroke="#505050" stroke-width="0.5"/>
<text x="355.9" y="312.2" font-size="3.5" font-weight="bold" text-anchor="end" fill="#111" stroke="#111" dominant-baseline="central">10</text>
<line x1="425.3" y1="358.5" x2="426.5" y2="358.5" stroke="#505050" stroke-width="0.5"/>
<text x="427.8" y="358.5" font-size="3.5" font-weight="bold" fill="#111" stroke="#111" dominant-baseline="central">0</text>
<line x1="425.3" y1="346.93" x2="426.5" y2="346.93" stroke="#505050" stroke-width="0.5"/>
<text x="427.8" y="346.93" font-size="3.5" font-weight="bold" fill="#111" stroke="#111" dominant-baseline="central">2</text>
<line x1="425.3" y1="335.35" x2="426.5" y2="335.35" stroke="#505050" stroke-width="0.5"/>
<text x="427.8" y="335.35" font-size="3.5" font-weight="bold" fill="#111" stroke="#111" dominant-baseline="central">4</text>
<line x1="425.3" y1="323.77" x2="426.5" y2="323.77" stroke="#505050" stroke-width="0.5"/>
<text x="427.8" y="323.77" font-size="3.5" font-weight="bold" fill="#111" stroke="#111" dominant-baseline="central">6</text>
<line x1="425.3" y1="312.2" x2="426.5" y2="312.2" stroke="#505050" stroke-width="0.5"/>
<text x="427.8" y="312.2" font-size="3.5" font-weight="bold" fill="#111" stroke="#111" dominant-baseline="central">8</text>
<line x1="358.3" y1="358.5" x2="358.3" y2="359.6" stroke="#505050" stroke-width="0.5"/>
<text x="358.3" y="363.1" font-size="3.5" font-weight="bold" text-anchor="middle" fill="#111" stroke="#111" dominant-baseline="central">0</text>
<line x1="366.68" y1="358.5" x2="366.68" y2="359.6" stroke="#505050" stroke-width="0.5"/>
<text x="366.68" y="363.1" font-size="3.5" font-weight="bold" text-anchor="middle" fill="#111" stroke="#111" dominant-baseline="central">1</text>
<line x1="375.05" y1="358.5" x2="375.05" y2="359.6" stroke="#505050" stroke-width="0.5"/>
<text x="375.05" y="363.1" font-size="3.5" font-weight="bold" text-anchor="middle" fill="#111" stroke="#111" dominant-baseline="central">2</text>
<line x1="383.43" y1="358.5" x2="383.43" y2="359.6" stroke="#505050" stroke-width="0.5"/>
<text x="383.43" y="363.1" font-size="3.5" font-weight="bold" text-anchor="middle" fill="#111" stroke="#111" dominant-baseline="central">3</text>
<line x1="391.8" y1="358.5" x2="391.8" y2="359.6" stroke="#505050" stroke-width="0.5"/>
<text x="391.8" y="363.1" font-size="3.5" font-weight="bold" text-anchor="middle" fill="#111" stroke="#111" dominant-baseline="central">4</text>
<line x1="400.18" y1="358.5" x2="400.18" y2="359.6" stroke="#505050" stroke-width="0.5"/>
<text x="400.18" y="363.1" font-size="3.5" font-weight="bold" text-anchor="middle" fill="#111" stroke="#111" dominant-baseline="central">5</text>
<line x1="408.55" y1="358.5" x2="408.55" y2="359.6" stroke="#505050" stroke-width="0.5"/>
<text x="408.55" y="363.1" font-size="3.5" font-weight="bold" text-anchor="middle" fill="#111" stroke="#111" dominant-baseline="central">6</text>
<line x1="416.93" y1="358.5" x2="416.93" y2="359.6" stroke="#505050" stroke-width="0.5"/>
<text x="416.93" y="363.1" font-size="3.5" font-weight="bold" text-anchor="middle" fill="#111" stroke="#111" dominant-baseline="central">7</text>
<line x1="425.3" y1="358.5" x2="425.3" y2="359.6" stroke="#505050" stroke-width="0.5"/>
<text x="425.3" y="363.1" font-size="3.5" font-weight="bold" text-anchor="middle" fill="#111" stroke="#111" dominant-baseline="central">8</text>
<polyline points="366.68,358.5 375.05,358.27 383.43,358.04 391.8,351.09 400.18,351.56 408.55,354.33 416.93,357.57" stroke="#f36a6a" stroke-width="0.55" fill="none"/>
<circle cx="366.68" cy="358.5" r="0.9" fill="#f03030"/>
<circle cx="375.05" cy="358.27" r="0.9" fill="#f03030"/>
<circle cx="383.43" cy="358.04" r="0.9" fill="#f03030"/>
<circle cx="391.8" cy="351.09" r="0.9" fill="#f03030"/>
<circle cx="400.18" cy="351.56" r="0.9" fill="#f03030"/>
<circle cx="408.55" cy="354.33" r="0.9" fill="#f03030"/>
<circle cx="416.93" cy="357.57" r="0.9" fill="#f03030"/>
<text x="391.8" y="368.8" font-size="3.8" font-weight="bold" text-anchor="middle" fill="#222" stroke="#222" dominant-baseline="central">Days post challenged (dpc)</text>
<text transform="translate(343.6 335.35) rotate(-90)" font-size="3.7" font-weight="bold" text-anchor="middle" fill="#222" stroke="#222" dominant-baseline="central">Copy numbers</text>
<text transform="translate(348 335.35) rotate(-90)" font-size="3.75" font-weight="bold" text-anchor="middle" fill="#222" stroke="#222" dominant-baseline="central">of viral RNA/0.1ml (log<tspan font-size="2.5" dy="0.6">10</tspan><tspan dy="-0.6">)</tspan></text>
<text transform="translate(434.5 335.35) rotate(90)" font-size="3.6" font-weight="bold" text-anchor="middle" fill="#222" stroke="#222" dominant-baseline="central">Clinical score</text>
<line x1="391.4" y1="304.3" x2="396.4" y2="304.3" stroke="#f36a6a" stroke-width="0.6"/>
<circle cx="393.9" cy="304.3" r="1" fill="#f03030"/>
<rect x="393.2" y="309.2" width="1.4" height="2.8" fill="#14146e"/>
<text x="399.4" y="304.3" font-size="3.6" font-weight="bold" fill="#222" stroke="#222" dominant-baseline="central">Swabs</text>
<text x="399.4" y="310.6" font-size="3.6" font-weight="bold" fill="#222" stroke="#222" dominant-baseline="central">Clinical score</text>
<text x="360.4" y="308.4" font-size="3.6" font-weight="bold" fill="#111" stroke="#111" dominant-baseline="central"># 10</text>
<line x1="470.6" y1="312.2" x2="470.6" y2="358.6" stroke="#505050" stroke-width="0.7"/>
<line x1="537.5" y1="312.2" x2="537.5" y2="358.6" stroke="#505050" stroke-width="0.7"/>
<line x1="470.6" y1="358.6" x2="537.5" y2="358.6" stroke="#505050" stroke-width="0.7"/>
<line x1="469.4" y1="358.6" x2="470.6" y2="358.6" stroke="#505050" stroke-width="0.5"/>
<text x="468.2" y="358.6" font-size="3.5" font-weight="bold" text-anchor="end" fill="#111" stroke="#111" dominant-baseline="central">0</text>
<line x1="469.4" y1="349.32" x2="470.6" y2="349.32" stroke="#505050" stroke-width="0.5"/>
<text x="468.2" y="349.32" font-size="3.5" font-weight="bold" text-anchor="end" fill="#111" stroke="#111" dominant-baseline="central">2</text>
<line x1="469.4" y1="340.04" x2="470.6" y2="340.04" stroke="#505050" stroke-width="0.5"/>
<text x="468.2" y="340.04" font-size="3.5" font-weight="bold" text-anchor="end" fill="#111" stroke="#111" dominant-baseline="central">4</text>
<line x1="469.4" y1="330.76" x2="470.6" y2="330.76" stroke="#505050" stroke-width="0.5"/>
<text x="468.2" y="330.76" font-size="3.5" font-weight="bold" text-anchor="end" fill="#111" stroke="#111" dominant-baseline="central">6</text>
<line x1="469.4" y1="321.48" x2="470.6" y2="321.48" stroke="#505050" stroke-width="0.5"/>
<text x="468.2" y="321.48" font-size="3.5" font-weight="bold" text-anchor="end" fill="#111" stroke="#111" dominant-baseline="central">8</text>
<line x1="469.4" y1="312.2" x2="470.6" y2="312.2" stroke="#505050" stroke-width="0.5"/>
<text x="468.2" y="312.2" font-size="3.5" font-weight="bold" text-anchor="end" fill="#111" stroke="#111" dominant-baseline="central">10</text>
<line x1="537.5" y1="358.6" x2="538.7" y2="358.6" stroke="#505050" stroke-width="0.5"/>
<text x="540" y="358.6" font-size="3.5" font-weight="bold" fill="#111" stroke="#111" dominant-baseline="central">0</text>
<line x1="537.5" y1="347" x2="538.7" y2="347" stroke="#505050" stroke-width="0.5"/>
<text x="540" y="347" font-size="3.5" font-weight="bold" fill="#111" stroke="#111" dominant-baseline="central">2</text>
<line x1="537.5" y1="335.4" x2="538.7" y2="335.4" stroke="#505050" stroke-width="0.5"/>
<text x="540" y="335.4" font-size="3.5" font-weight="bold" fill="#111" stroke="#111" dominant-baseline="central">4</text>
<line x1="537.5" y1="323.8" x2="538.7" y2="323.8" stroke="#505050" stroke-width="0.5"/>
<text x="540" y="323.8" font-size="3.5" font-weight="bold" fill="#111" stroke="#111" dominant-baseline="central">6</text>
<line x1="537.5" y1="312.2" x2="538.7" y2="312.2" stroke="#505050" stroke-width="0.5"/>
<text x="540" y="312.2" font-size="3.5" font-weight="bold" fill="#111" stroke="#111" dominant-baseline="central">8</text>
<line x1="470.6" y1="358.6" x2="470.6" y2="359.7" stroke="#505050" stroke-width="0.5"/>
<text x="470.6" y="363.2" font-size="3.5" font-weight="bold" text-anchor="middle" fill="#111" stroke="#111" dominant-baseline="central">0</text>
<line x1="478.96" y1="358.6" x2="478.96" y2="359.7" stroke="#505050" stroke-width="0.5"/>
<text x="478.96" y="363.2" font-size="3.5" font-weight="bold" text-anchor="middle" fill="#111" stroke="#111" dominant-baseline="central">1</text>
<line x1="487.33" y1="358.6" x2="487.33" y2="359.7" stroke="#505050" stroke-width="0.5"/>
<text x="487.33" y="363.2" font-size="3.5" font-weight="bold" text-anchor="middle" fill="#111" stroke="#111" dominant-baseline="central">2</text>
<line x1="495.69" y1="358.6" x2="495.69" y2="359.7" stroke="#505050" stroke-width="0.5"/>
<text x="495.69" y="363.2" font-size="3.5" font-weight="bold" text-anchor="middle" fill="#111" stroke="#111" dominant-baseline="central">3</text>
<line x1="504.05" y1="358.6" x2="504.05" y2="359.7" stroke="#505050" stroke-width="0.5"/>
<text x="504.05" y="363.2" font-size="3.5" font-weight="bold" text-anchor="middle" fill="#111" stroke="#111" dominant-baseline="central">4</text>
<line x1="512.41" y1="358.6" x2="512.41" y2="359.7" stroke="#505050" stroke-width="0.5"/>
<text x="512.41" y="363.2" font-size="3.5" font-weight="bold" text-anchor="middle" fill="#111" stroke="#111" dominant-baseline="central">5</text>
<line x1="520.77" y1="358.6" x2="520.77" y2="359.7" stroke="#505050" stroke-width="0.5"/>
<text x="520.77" y="363.2" font-size="3.5" font-weight="bold" text-anchor="middle" fill="#111" stroke="#111" dominant-baseline="central">6</text>
<line x1="529.14" y1="358.6" x2="529.14" y2="359.7" stroke="#505050" stroke-width="0.5"/>
<text x="529.14" y="363.2" font-size="3.5" font-weight="bold" text-anchor="middle" fill="#111" stroke="#111" dominant-baseline="central">7</text>
<line x1="537.5" y1="358.6" x2="537.5" y2="359.7" stroke="#505050" stroke-width="0.5"/>
<text x="537.5" y="363.2" font-size="3.5" font-weight="bold" text-anchor="middle" fill="#111" stroke="#111" dominant-baseline="central">8</text>
<polyline points="478.96,358.6 487.33,358.6 495.69,354.42 504.05,356.28 512.41,358.14 520.77,354.89 529.14,358.14" stroke="#f36a6a" stroke-width="0.55" fill="none"/>
<circle cx="478.96" cy="358.6" r="0.9" fill="#f03030"/>
<circle cx="487.33" cy="358.6" r="0.9" fill="#f03030"/>
<circle cx="495.69" cy="354.42" r="0.9" fill="#f03030"/>
<circle cx="504.05" cy="356.28" r="0.9" fill="#f03030"/>
<circle cx="512.41" cy="358.14" r="0.9" fill="#f03030"/>
<circle cx="520.77" cy="354.89" r="0.9" fill="#f03030"/>
<circle cx="529.14" cy="358.14" r="0.9" fill="#f03030"/>
<text x="504.05" y="368.9" font-size="3.8" font-weight="bold" text-anchor="middle" fill="#222" stroke="#222" dominant-baseline="central">Days post challenged (dpc)</text>
<text transform="translate(455.9 335.4) rotate(-90)" font-size="3.7" font-weight="bold" text-anchor="middle" fill="#222" stroke="#222" dominant-baseline="central">Copy numbers</text>
<text transform="translate(460.3 335.4) rotate(-90)" font-size="3.75" font-weight="bold" text-anchor="middle" fill="#222" stroke="#222" dominant-baseline="central">of viral RNA/0.1ml (log<tspan font-size="2.5" dy="0.6">10</tspan><tspan dy="-0.6">)</tspan></text>
<text transform="translate(546.7 335.4) rotate(90)" font-size="3.6" font-weight="bold" text-anchor="middle" fill="#222" stroke="#222" dominant-baseline="central">Clinical score</text>
<line x1="504" y1="304.5" x2="509" y2="304.5" stroke="#f36a6a" stroke-width="0.6"/>
<circle cx="506.5" cy="304.5" r="1" fill="#f03030"/>
<rect x="505.8" y="309.4" width="1.4" height="2.8" fill="#14146e"/>
<text x="512" y="304.5" font-size="3.6" font-weight="bold" fill="#222" stroke="#222" dominant-baseline="central">Swabs</text>
<text x="512" y="310.8" font-size="3.6" font-weight="bold" fill="#222" stroke="#222" dominant-baseline="central">Clinical score</text>
<text x="473" y="308.5" font-size="3.6" font-weight="bold" fill="#111" stroke="#111" dominant-baseline="central"># 11</text>
</g>
</svg>
</body></html>
